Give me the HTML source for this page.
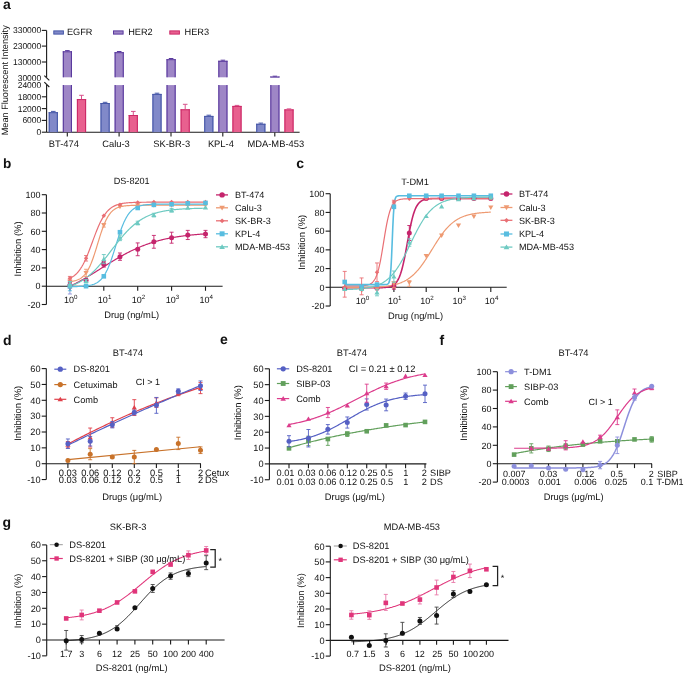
<!DOCTYPE html>
<html><head><meta charset="utf-8"><style>
html,body{margin:0;padding:0;background:#fff;}
svg{display:block;will-change:transform;filter:blur(0.3px);}
text{font-family:"Liberation Sans",sans-serif;fill:#111111;text-rendering:geometricPrecision;}
</style></head><body>
<svg width="685" height="675" viewBox="0 0 685 675">
<rect width="685" height="675" fill="#fff"/>
<text x="3.00" y="9.30" font-size="14" text-anchor="start" font-weight="bold" >a</text>
<line x1="46.60" y1="30.40" x2="46.60" y2="77.20" stroke="#1a1a1a" stroke-width="1.1" />
<line x1="46.60" y1="85.00" x2="46.60" y2="132.20" stroke="#1a1a1a" stroke-width="1.1" />
<path d="M44.3,75.6L49.3,80.4" stroke="#1a1a1a" stroke-width="1.1" fill="none" />
<path d="M44.3,82.2L49.3,87.0" stroke="#1a1a1a" stroke-width="1.1" fill="none" />
<line x1="41.80" y1="30.40" x2="46.60" y2="30.40" stroke="#1a1a1a" stroke-width="1.1" />
<text x="41.30" y="33.40" font-size="8.5" text-anchor="end" >330000</text>
<line x1="41.80" y1="46.10" x2="46.60" y2="46.10" stroke="#1a1a1a" stroke-width="1.1" />
<text x="41.30" y="49.10" font-size="8.5" text-anchor="end" >230000</text>
<line x1="41.80" y1="62.00" x2="46.60" y2="62.00" stroke="#1a1a1a" stroke-width="1.1" />
<text x="41.30" y="65.00" font-size="8.5" text-anchor="end" >130000</text>
<text x="41.30" y="80.60" font-size="8.5" text-anchor="end" >30000</text>
<text x="41.30" y="88.00" font-size="8.5" text-anchor="end" >24000</text>
<line x1="41.80" y1="96.80" x2="46.60" y2="96.80" stroke="#1a1a1a" stroke-width="1.1" />
<text x="41.30" y="99.80" font-size="8.5" text-anchor="end" >18000</text>
<line x1="41.80" y1="108.60" x2="46.60" y2="108.60" stroke="#1a1a1a" stroke-width="1.1" />
<text x="41.30" y="111.60" font-size="8.5" text-anchor="end" >12000</text>
<line x1="41.80" y1="120.40" x2="46.60" y2="120.40" stroke="#1a1a1a" stroke-width="1.1" />
<text x="41.30" y="123.40" font-size="8.5" text-anchor="end" >6000</text>
<line x1="41.80" y1="132.20" x2="46.60" y2="132.20" stroke="#1a1a1a" stroke-width="1.1" />
<text x="41.30" y="135.20" font-size="8.5" text-anchor="end" >0</text>
<text transform="translate(7.60,80.30) rotate(-90)" font-size="9.18" text-anchor="middle">Mean Fluorescent Intensity</text>
<line x1="46.60" y1="132.20" x2="299.60" y2="132.20" stroke="#1a1a1a" stroke-width="1.1" />
<line x1="67.30" y1="132.20" x2="67.30" y2="136.40" stroke="#1a1a1a" stroke-width="1.1" />
<line x1="119.10" y1="132.20" x2="119.10" y2="136.40" stroke="#1a1a1a" stroke-width="1.1" />
<line x1="171.00" y1="132.20" x2="171.00" y2="136.40" stroke="#1a1a1a" stroke-width="1.1" />
<line x1="222.80" y1="132.20" x2="222.80" y2="136.40" stroke="#1a1a1a" stroke-width="1.1" />
<line x1="274.80" y1="132.20" x2="274.80" y2="136.40" stroke="#1a1a1a" stroke-width="1.1" />
<text x="48.80" y="146.80" font-size="9.35" text-anchor="start" >BT-474</text>
<text x="102.20" y="146.80" font-size="9.35" text-anchor="start" >Calu-3</text>
<text x="153.30" y="146.80" font-size="9.35" text-anchor="start" >SK-BR-3</text>
<text x="207.90" y="146.80" font-size="9.35" text-anchor="start" >KPL-4</text>
<text x="247.50" y="146.80" font-size="9.35" text-anchor="start" >MDA-MB-453</text>
<rect x="48.70" y="112.20" width="9.20" height="20.00" fill="#8189c9"/>
<line x1="49.25" y1="112.20" x2="49.25" y2="132.20" stroke="#4658a8" stroke-width="1.1" />
<line x1="57.35" y1="112.20" x2="57.35" y2="132.20" stroke="#4658a8" stroke-width="1.1" />
<line x1="48.70" y1="112.70" x2="57.90" y2="112.70" stroke="#4658a8" stroke-width="1.0" />
<line x1="53.30" y1="111.40" x2="53.30" y2="112.20" stroke="#4658a8" stroke-width="1.0" />
<line x1="51.00" y1="111.40" x2="55.60" y2="111.40" stroke="#4658a8" stroke-width="1.0" />
<rect x="62.80" y="51.30" width="9.20" height="26.00" fill="#9e86c6"/>
<line x1="63.35" y1="51.30" x2="63.35" y2="77.30" stroke="#5a3a9e" stroke-width="1.1" />
<line x1="71.45" y1="51.30" x2="71.45" y2="77.30" stroke="#5a3a9e" stroke-width="1.1" />
<line x1="62.80" y1="51.80" x2="72.00" y2="51.80" stroke="#5a3a9e" stroke-width="1.0" />
<rect x="62.80" y="85.10" width="9.20" height="47.10" fill="#9e86c6"/>
<line x1="63.35" y1="85.10" x2="63.35" y2="132.20" stroke="#5a3a9e" stroke-width="1.1" />
<line x1="71.45" y1="85.10" x2="71.45" y2="132.20" stroke="#5a3a9e" stroke-width="1.1" />
<line x1="67.40" y1="50.60" x2="67.40" y2="51.30" stroke="#5a3a9e" stroke-width="1.0" />
<line x1="65.10" y1="50.60" x2="69.70" y2="50.60" stroke="#5a3a9e" stroke-width="1.0" />
<rect x="76.90" y="99.10" width="9.20" height="33.10" fill="#e8608f"/>
<line x1="77.45" y1="99.10" x2="77.45" y2="132.20" stroke="#cc2a68" stroke-width="1.1" />
<line x1="85.55" y1="99.10" x2="85.55" y2="132.20" stroke="#cc2a68" stroke-width="1.1" />
<line x1="76.90" y1="99.60" x2="86.10" y2="99.60" stroke="#cc2a68" stroke-width="1.0" />
<line x1="81.50" y1="95.30" x2="81.50" y2="99.10" stroke="#d8508a" stroke-width="1.0" />
<line x1="79.20" y1="95.30" x2="83.80" y2="95.30" stroke="#d8508a" stroke-width="1.0" />
<rect x="100.50" y="103.00" width="9.20" height="29.20" fill="#8189c9"/>
<line x1="101.05" y1="103.00" x2="101.05" y2="132.20" stroke="#4658a8" stroke-width="1.1" />
<line x1="109.15" y1="103.00" x2="109.15" y2="132.20" stroke="#4658a8" stroke-width="1.1" />
<line x1="100.50" y1="103.50" x2="109.70" y2="103.50" stroke="#4658a8" stroke-width="1.0" />
<line x1="105.10" y1="102.30" x2="105.10" y2="103.00" stroke="#4658a8" stroke-width="1.0" />
<line x1="102.80" y1="102.30" x2="107.40" y2="102.30" stroke="#4658a8" stroke-width="1.0" />
<rect x="114.60" y="52.20" width="9.20" height="25.10" fill="#9e86c6"/>
<line x1="115.15" y1="52.20" x2="115.15" y2="77.30" stroke="#5a3a9e" stroke-width="1.1" />
<line x1="123.25" y1="52.20" x2="123.25" y2="77.30" stroke="#5a3a9e" stroke-width="1.1" />
<line x1="114.60" y1="52.70" x2="123.80" y2="52.70" stroke="#5a3a9e" stroke-width="1.0" />
<rect x="114.60" y="85.10" width="9.20" height="47.10" fill="#9e86c6"/>
<line x1="115.15" y1="85.10" x2="115.15" y2="132.20" stroke="#5a3a9e" stroke-width="1.1" />
<line x1="123.25" y1="85.10" x2="123.25" y2="132.20" stroke="#5a3a9e" stroke-width="1.1" />
<line x1="119.20" y1="51.50" x2="119.20" y2="52.20" stroke="#5a3a9e" stroke-width="1.0" />
<line x1="116.90" y1="51.50" x2="121.50" y2="51.50" stroke="#5a3a9e" stroke-width="1.0" />
<rect x="128.70" y="115.00" width="9.20" height="17.20" fill="#e8608f"/>
<line x1="129.25" y1="115.00" x2="129.25" y2="132.20" stroke="#cc2a68" stroke-width="1.1" />
<line x1="137.35" y1="115.00" x2="137.35" y2="132.20" stroke="#cc2a68" stroke-width="1.1" />
<line x1="128.70" y1="115.50" x2="137.90" y2="115.50" stroke="#cc2a68" stroke-width="1.0" />
<line x1="133.30" y1="111.40" x2="133.30" y2="115.00" stroke="#d8508a" stroke-width="1.0" />
<line x1="131.00" y1="111.40" x2="135.60" y2="111.40" stroke="#d8508a" stroke-width="1.0" />
<rect x="152.40" y="93.90" width="9.20" height="38.30" fill="#8189c9"/>
<line x1="152.95" y1="93.90" x2="152.95" y2="132.20" stroke="#4658a8" stroke-width="1.1" />
<line x1="161.05" y1="93.90" x2="161.05" y2="132.20" stroke="#4658a8" stroke-width="1.1" />
<line x1="152.40" y1="94.40" x2="161.60" y2="94.40" stroke="#4658a8" stroke-width="1.0" />
<line x1="157.00" y1="93.20" x2="157.00" y2="93.90" stroke="#4658a8" stroke-width="1.0" />
<line x1="154.70" y1="93.20" x2="159.30" y2="93.20" stroke="#4658a8" stroke-width="1.0" />
<rect x="166.50" y="59.20" width="9.20" height="18.10" fill="#9e86c6"/>
<line x1="167.05" y1="59.20" x2="167.05" y2="77.30" stroke="#5a3a9e" stroke-width="1.1" />
<line x1="175.15" y1="59.20" x2="175.15" y2="77.30" stroke="#5a3a9e" stroke-width="1.1" />
<line x1="166.50" y1="59.70" x2="175.70" y2="59.70" stroke="#5a3a9e" stroke-width="1.0" />
<rect x="166.50" y="85.10" width="9.20" height="47.10" fill="#9e86c6"/>
<line x1="167.05" y1="85.10" x2="167.05" y2="132.20" stroke="#5a3a9e" stroke-width="1.1" />
<line x1="175.15" y1="85.10" x2="175.15" y2="132.20" stroke="#5a3a9e" stroke-width="1.1" />
<line x1="171.10" y1="58.50" x2="171.10" y2="59.20" stroke="#5a3a9e" stroke-width="1.0" />
<line x1="168.80" y1="58.50" x2="173.40" y2="58.50" stroke="#5a3a9e" stroke-width="1.0" />
<rect x="180.60" y="109.30" width="9.20" height="22.90" fill="#e8608f"/>
<line x1="181.15" y1="109.30" x2="181.15" y2="132.20" stroke="#cc2a68" stroke-width="1.1" />
<line x1="189.25" y1="109.30" x2="189.25" y2="132.20" stroke="#cc2a68" stroke-width="1.1" />
<line x1="180.60" y1="109.80" x2="189.80" y2="109.80" stroke="#cc2a68" stroke-width="1.0" />
<line x1="185.20" y1="104.30" x2="185.20" y2="109.30" stroke="#d8508a" stroke-width="1.0" />
<line x1="182.90" y1="104.30" x2="187.50" y2="104.30" stroke="#d8508a" stroke-width="1.0" />
<rect x="204.20" y="115.90" width="9.20" height="16.30" fill="#8189c9"/>
<line x1="204.75" y1="115.90" x2="204.75" y2="132.20" stroke="#4658a8" stroke-width="1.1" />
<line x1="212.85" y1="115.90" x2="212.85" y2="132.20" stroke="#4658a8" stroke-width="1.1" />
<line x1="204.20" y1="116.40" x2="213.40" y2="116.40" stroke="#4658a8" stroke-width="1.0" />
<line x1="208.80" y1="115.20" x2="208.80" y2="115.90" stroke="#4658a8" stroke-width="1.0" />
<line x1="206.50" y1="115.20" x2="211.10" y2="115.20" stroke="#4658a8" stroke-width="1.0" />
<rect x="218.30" y="60.80" width="9.20" height="16.50" fill="#9e86c6"/>
<line x1="218.85" y1="60.80" x2="218.85" y2="77.30" stroke="#5a3a9e" stroke-width="1.1" />
<line x1="226.95" y1="60.80" x2="226.95" y2="77.30" stroke="#5a3a9e" stroke-width="1.1" />
<line x1="218.30" y1="61.30" x2="227.50" y2="61.30" stroke="#5a3a9e" stroke-width="1.0" />
<rect x="218.30" y="85.10" width="9.20" height="47.10" fill="#9e86c6"/>
<line x1="218.85" y1="85.10" x2="218.85" y2="132.20" stroke="#5a3a9e" stroke-width="1.1" />
<line x1="226.95" y1="85.10" x2="226.95" y2="132.20" stroke="#5a3a9e" stroke-width="1.1" />
<line x1="222.90" y1="60.20" x2="222.90" y2="60.80" stroke="#5a3a9e" stroke-width="1.0" />
<line x1="220.60" y1="60.20" x2="225.20" y2="60.20" stroke="#5a3a9e" stroke-width="1.0" />
<rect x="232.40" y="105.90" width="9.20" height="26.30" fill="#e8608f"/>
<line x1="232.95" y1="105.90" x2="232.95" y2="132.20" stroke="#cc2a68" stroke-width="1.1" />
<line x1="241.05" y1="105.90" x2="241.05" y2="132.20" stroke="#cc2a68" stroke-width="1.1" />
<line x1="232.40" y1="106.40" x2="241.60" y2="106.40" stroke="#cc2a68" stroke-width="1.0" />
<line x1="237.00" y1="105.40" x2="237.00" y2="105.90" stroke="#d8508a" stroke-width="1.0" />
<line x1="234.70" y1="105.40" x2="239.30" y2="105.40" stroke="#d8508a" stroke-width="1.0" />
<rect x="256.20" y="123.80" width="9.20" height="8.40" fill="#8189c9"/>
<line x1="256.75" y1="123.80" x2="256.75" y2="132.20" stroke="#4658a8" stroke-width="1.1" />
<line x1="264.85" y1="123.80" x2="264.85" y2="132.20" stroke="#4658a8" stroke-width="1.1" />
<line x1="256.20" y1="124.30" x2="265.40" y2="124.30" stroke="#4658a8" stroke-width="1.0" />
<line x1="260.80" y1="123.10" x2="260.80" y2="123.80" stroke="#4658a8" stroke-width="1.0" />
<line x1="258.50" y1="123.10" x2="263.10" y2="123.10" stroke="#4658a8" stroke-width="1.0" />
<rect x="270.30" y="76.60" width="9.20" height="0.70" fill="#9e86c6"/>
<line x1="270.85" y1="76.60" x2="270.85" y2="77.30" stroke="#5a3a9e" stroke-width="1.1" />
<line x1="278.95" y1="76.60" x2="278.95" y2="77.30" stroke="#5a3a9e" stroke-width="1.1" />
<line x1="270.30" y1="77.10" x2="279.50" y2="77.10" stroke="#5a3a9e" stroke-width="1.0" />
<rect x="270.30" y="85.10" width="9.20" height="47.10" fill="#9e86c6"/>
<line x1="270.85" y1="85.10" x2="270.85" y2="132.20" stroke="#5a3a9e" stroke-width="1.1" />
<line x1="278.95" y1="85.10" x2="278.95" y2="132.20" stroke="#5a3a9e" stroke-width="1.1" />
<line x1="274.90" y1="76.20" x2="274.90" y2="76.60" stroke="#5a3a9e" stroke-width="1.0" />
<line x1="272.60" y1="76.20" x2="277.20" y2="76.20" stroke="#5a3a9e" stroke-width="1.0" />
<rect x="284.40" y="109.40" width="9.20" height="22.80" fill="#e8608f"/>
<line x1="284.95" y1="109.40" x2="284.95" y2="132.20" stroke="#cc2a68" stroke-width="1.1" />
<line x1="293.05" y1="109.40" x2="293.05" y2="132.20" stroke="#cc2a68" stroke-width="1.1" />
<line x1="284.40" y1="109.90" x2="293.60" y2="109.90" stroke="#cc2a68" stroke-width="1.0" />
<line x1="289.00" y1="108.90" x2="289.00" y2="109.40" stroke="#d8508a" stroke-width="1.0" />
<line x1="286.70" y1="108.90" x2="291.30" y2="108.90" stroke="#d8508a" stroke-width="1.0" />
<rect x="53.80" y="30.90" width="9.60" height="3.20" fill="#8189c9" stroke="#4658a8" stroke-width="1.0"/>
<text x="66.90" y="35.10" font-size="9.2" text-anchor="start" >EGFR</text>
<rect x="113.50" y="30.90" width="9.60" height="3.20" fill="#9e86c6" stroke="#5a3a9e" stroke-width="1.0"/>
<text x="128.20" y="35.10" font-size="9.2" text-anchor="start" >HER2</text>
<rect x="169.80" y="30.90" width="9.60" height="3.20" fill="#e8608f" stroke="#cc2a68" stroke-width="1.0"/>
<text x="184.60" y="35.10" font-size="9.2" text-anchor="start" >HER3</text>
<text x="3.00" y="167.80" font-size="13.6" text-anchor="start" font-weight="bold" >b</text>
<line x1="46.40" y1="194.70" x2="46.40" y2="304.50" stroke="#1a1a1a" stroke-width="1.1" />
<line x1="41.80" y1="194.70" x2="46.40" y2="194.70" stroke="#1a1a1a" stroke-width="1.1" />
<text x="40.60" y="197.94" font-size="9.0" text-anchor="end" >100</text>
<line x1="41.80" y1="213.00" x2="46.40" y2="213.00" stroke="#1a1a1a" stroke-width="1.1" />
<text x="40.60" y="216.24" font-size="9.0" text-anchor="end" >80</text>
<line x1="41.80" y1="231.30" x2="46.40" y2="231.30" stroke="#1a1a1a" stroke-width="1.1" />
<text x="40.60" y="234.54" font-size="9.0" text-anchor="end" >60</text>
<line x1="41.80" y1="249.60" x2="46.40" y2="249.60" stroke="#1a1a1a" stroke-width="1.1" />
<text x="40.60" y="252.84" font-size="9.0" text-anchor="end" >40</text>
<line x1="41.80" y1="267.90" x2="46.40" y2="267.90" stroke="#1a1a1a" stroke-width="1.1" />
<text x="40.60" y="271.14" font-size="9.0" text-anchor="end" >20</text>
<line x1="41.80" y1="286.20" x2="46.40" y2="286.20" stroke="#1a1a1a" stroke-width="1.1" />
<text x="40.60" y="289.44" font-size="9.0" text-anchor="end" >0</text>
<line x1="41.80" y1="304.50" x2="46.40" y2="304.50" stroke="#1a1a1a" stroke-width="1.1" />
<text x="40.60" y="307.74" font-size="9.0" text-anchor="end" >-20</text>
<line x1="46.40" y1="286.20" x2="222.60" y2="286.20" stroke="#1a1a1a" stroke-width="1.1" />
<line x1="69.90" y1="286.20" x2="69.90" y2="290.80" stroke="#1a1a1a" stroke-width="1.1" />
<text x="70.70" y="302.7" font-size="9.0" text-anchor="middle">10<tspan font-size="6.2" dy="-3.6">0</tspan></text>
<line x1="103.80" y1="286.20" x2="103.80" y2="290.80" stroke="#1a1a1a" stroke-width="1.1" />
<text x="104.60" y="302.7" font-size="9.0" text-anchor="middle">10<tspan font-size="6.2" dy="-3.6">1</tspan></text>
<line x1="137.70" y1="286.20" x2="137.70" y2="290.80" stroke="#1a1a1a" stroke-width="1.1" />
<text x="138.50" y="302.7" font-size="9.0" text-anchor="middle">10<tspan font-size="6.2" dy="-3.6">2</tspan></text>
<line x1="171.60" y1="286.20" x2="171.60" y2="290.80" stroke="#1a1a1a" stroke-width="1.1" />
<text x="172.40" y="302.7" font-size="9.0" text-anchor="middle">10<tspan font-size="6.2" dy="-3.6">3</tspan></text>
<line x1="205.50" y1="286.20" x2="205.50" y2="290.80" stroke="#1a1a1a" stroke-width="1.1" />
<text x="206.30" y="302.7" font-size="9.0" text-anchor="middle">10<tspan font-size="6.2" dy="-3.6">4</tspan></text>
<text x="131.70" y="184.40" font-size="9.1" text-anchor="middle" >DS-8201</text>
<text x="131.70" y="318.00" font-size="9.35" text-anchor="middle" >Drug (ng/mL)</text>
<text transform="translate(21.30,248.90) rotate(-90)" font-size="9.45" text-anchor="middle">Inhibition (%)</text>
<line x1="69.90" y1="286.20" x2="69.90" y2="293.98" stroke="#8a90d8" stroke-width="0.9" />
<line x1="67.90" y1="286.20" x2="71.90" y2="286.20" stroke="#8a90d8" stroke-width="0.9" />
<line x1="67.90" y1="293.98" x2="71.90" y2="293.98" stroke="#8a90d8" stroke-width="0.9" />
<path d="M69.90,286.30L70.47,286.03L71.03,285.76L71.59,285.48L72.16,285.21L72.73,284.93L73.29,284.65L73.86,284.36L74.42,284.07L74.98,283.78L75.55,283.49L76.12,283.20L76.68,282.90L77.25,282.60L77.81,282.30L78.38,282.00L78.94,281.69L79.51,281.38L80.07,281.07L80.64,280.76L81.20,280.44L81.77,280.13L82.33,279.81L82.90,279.49L83.46,279.16L84.03,278.84L84.59,278.51L85.16,278.18L85.72,277.85L86.28,277.52L86.85,277.19L87.42,276.85L87.98,276.51L88.55,276.18L89.11,275.84L89.68,275.49L90.24,275.15L90.81,274.81L91.37,274.46L91.94,274.12L92.50,273.77L93.06,273.42L93.63,273.07L94.20,272.72L94.76,272.37L95.33,272.01L95.89,271.66L96.46,271.31L97.02,270.95L97.59,270.60L98.15,270.24L98.72,269.89L99.28,269.53L99.84,269.18L100.41,268.82L100.97,268.46L101.54,268.11L102.11,267.75L102.67,267.39L103.23,267.04L103.80,266.68L104.37,266.33L104.93,265.97L105.50,265.62L106.06,265.26L106.62,264.91L107.19,264.55L107.75,264.20L108.32,263.85L108.88,263.50L109.45,263.15L110.02,262.80L110.58,262.45L111.15,262.10L111.71,261.76L112.28,261.41L112.84,261.07L113.41,260.73L113.97,260.39L114.53,260.05L115.10,259.71L115.67,259.37L116.23,259.04L116.80,258.71L117.36,258.38L117.93,258.05L118.49,257.72L119.06,257.39L119.62,257.07L120.19,256.75L120.75,256.43L121.31,256.11L121.88,255.79L122.45,255.48L123.01,255.17L123.58,254.86L124.14,254.55L124.71,254.25L125.27,253.95L125.84,253.65L126.40,253.35L126.97,253.05L127.53,252.76L128.09,252.47L128.66,252.18L129.22,251.90L129.79,251.61L130.36,251.33L130.92,251.06L131.49,250.78L132.05,250.51L132.62,250.24L133.18,249.97L133.75,249.71L134.31,249.44L134.88,249.18L135.44,248.93L136.00,248.67L136.57,248.42L137.13,248.17L137.70,247.93L138.26,247.68L138.83,247.44L139.39,247.21L139.96,246.97L140.53,246.74L141.09,246.51L141.66,246.28L142.22,246.06L142.78,245.83L143.35,245.62L143.91,245.40L144.48,245.19L145.05,244.97L145.61,244.77L146.18,244.56L146.74,244.36L147.31,244.16L147.87,243.96L148.44,243.76L149.00,243.57L149.56,243.38L150.13,243.19L150.69,243.01L151.26,242.82L151.82,242.64L152.39,242.47L152.96,242.29L153.52,242.12L154.09,241.95L154.65,241.78L155.22,241.62L155.78,241.45L156.34,241.29L156.91,241.13L157.48,240.98L158.04,240.82L158.61,240.67L159.17,240.52L159.74,240.38L160.30,240.23L160.87,240.09L161.43,239.95L162.00,239.81L162.56,239.67L163.12,239.54L163.69,239.41L164.25,239.28L164.82,239.15L165.38,239.02L165.95,238.90L166.51,238.78L167.08,238.66L167.64,238.54L168.21,238.42L168.77,238.31L169.34,238.20L169.91,238.09L170.47,237.98L171.03,237.87L171.60,237.76L172.17,237.66L172.73,237.56L173.30,237.46L173.86,237.36L174.43,237.26L174.99,237.17L175.56,237.07L176.12,236.98L176.69,236.89L177.25,236.80L177.81,236.71L178.38,236.63L178.94,236.54L179.51,236.46L180.07,236.38L180.64,236.30L181.20,236.22L181.77,236.14L182.34,236.07L182.90,235.99L183.47,235.92L184.03,235.84L184.59,235.77L185.16,235.70L185.72,235.64L186.29,235.57L186.86,235.50L187.42,235.44L187.99,235.37L188.55,235.31L189.12,235.25L189.68,235.19L190.25,235.13L190.81,235.07L191.38,235.01L191.94,234.96L192.50,234.90L193.07,234.85L193.63,234.79L194.20,234.74L194.76,234.69L195.33,234.64L195.90,234.59L196.46,234.54L197.03,234.49L197.59,234.44L198.16,234.40L198.72,234.35L199.28,234.31L199.85,234.27L200.41,234.22L200.98,234.18L201.54,234.14L202.11,234.10L202.67,234.06L203.24,234.02L203.81,233.98L204.37,233.94L204.94,233.91L205.50,233.87" stroke="#c5246c" stroke-width="1.2" fill="none" />
<path d="M69.90,281.61L70.47,281.55L71.03,281.47L71.59,281.39L72.16,281.30L72.73,281.21L73.29,281.10L73.86,280.98L74.42,280.85L74.98,280.71L75.55,280.56L76.12,280.39L76.68,280.20L77.25,280.00L77.81,279.77L78.38,279.53L78.94,279.26L79.51,278.97L80.07,278.65L80.64,278.30L81.20,277.92L81.77,277.51L82.33,277.06L82.90,276.57L83.46,276.04L84.03,275.46L84.59,274.84L85.16,274.16L85.72,273.44L86.28,272.65L86.85,271.81L87.42,270.90L87.98,269.94L88.55,268.90L89.11,267.80L89.68,266.63L90.24,265.39L90.81,264.09L91.37,262.71L91.94,261.27L92.50,259.76L93.06,258.19L93.63,256.57L94.20,254.89L94.76,253.16L95.33,251.39L95.89,249.59L96.46,247.76L97.02,245.91L97.59,244.05L98.15,242.19L98.72,240.34L99.28,238.50L99.84,236.69L100.41,234.91L100.97,233.17L101.54,231.47L102.11,229.82L102.67,228.24L103.23,226.71L103.80,225.24L104.37,223.84L104.93,222.51L105.50,221.25L106.06,220.06L106.62,218.93L107.19,217.88L107.75,216.89L108.32,215.96L108.88,215.10L109.45,214.29L110.02,213.55L110.58,212.85L111.15,212.21L111.71,211.62L112.28,211.07L112.84,210.57L113.41,210.11L113.97,209.68L114.53,209.29L115.10,208.93L115.67,208.60L116.23,208.30L116.80,208.02L117.36,207.77L117.93,207.54L118.49,207.33L119.06,207.14L119.62,206.96L120.19,206.80L120.75,206.66L121.31,206.53L121.88,206.41L122.45,206.30L123.01,206.19L123.58,206.10L124.14,206.02L124.71,205.94L125.27,205.88L125.84,205.81L126.40,205.76L126.97,205.70L127.53,205.66L128.09,205.62L128.66,205.58L129.22,205.54L129.79,205.51L130.36,205.48L130.92,205.45L131.49,205.43L132.05,205.41L132.62,205.39L133.18,205.37L133.75,205.35L134.31,205.34L134.88,205.32L135.44,205.31L136.00,205.30L136.57,205.29L137.13,205.28L137.70,205.27L138.26,205.27L138.83,205.26L139.39,205.25L139.96,205.25L140.53,205.24L141.09,205.24L141.66,205.23L142.22,205.23L142.78,205.23L143.35,205.22L143.91,205.22L144.48,205.22L145.05,205.21L145.61,205.21L146.18,205.21L146.74,205.21L147.31,205.21L147.87,205.21L148.44,205.20L149.00,205.20L149.56,205.20L150.13,205.20L150.69,205.20L151.26,205.20L151.82,205.20L152.39,205.20L152.96,205.20L153.52,205.20L154.09,205.20L154.65,205.20L155.22,205.19L155.78,205.19L156.34,205.19L156.91,205.19L157.48,205.19L158.04,205.19L158.61,205.19L159.17,205.19L159.74,205.19L160.30,205.19L160.87,205.19L161.43,205.19L162.00,205.19L162.56,205.19L163.12,205.19L163.69,205.19L164.25,205.19L164.82,205.19L165.38,205.19L165.95,205.19L166.51,205.19L167.08,205.19L167.64,205.19L168.21,205.19L168.77,205.19L169.34,205.19L169.91,205.19L170.47,205.19L171.03,205.19L171.60,205.19L172.17,205.19L172.73,205.19L173.30,205.19L173.86,205.19L174.43,205.19L174.99,205.19L175.56,205.19L176.12,205.19L176.69,205.19L177.25,205.19L177.81,205.19L178.38,205.19L178.94,205.19L179.51,205.19L180.07,205.19L180.64,205.19L181.20,205.19L181.77,205.19L182.34,205.19L182.90,205.19L183.47,205.19L184.03,205.19L184.59,205.19L185.16,205.19L185.72,205.19L186.29,205.19L186.86,205.19L187.42,205.19L187.99,205.19L188.55,205.19L189.12,205.19L189.68,205.19L190.25,205.19L190.81,205.19L191.38,205.19L191.94,205.19L192.50,205.19L193.07,205.19L193.63,205.19L194.20,205.19L194.76,205.19L195.33,205.19L195.90,205.19L196.46,205.19L197.03,205.19L197.59,205.19L198.16,205.19L198.72,205.19L199.28,205.19L199.85,205.19L200.41,205.19L200.98,205.19L201.54,205.19L202.11,205.19L202.67,205.19L203.24,205.19L203.81,205.19L204.37,205.19L204.94,205.19L205.50,205.19" stroke="#ee9a72" stroke-width="1.2" fill="none" />
<path d="M69.90,278.28L70.47,278.01L71.03,277.73L71.59,277.42L72.16,277.09L72.73,276.73L73.29,276.36L73.86,275.95L74.42,275.52L74.98,275.06L75.55,274.57L76.12,274.04L76.68,273.49L77.25,272.89L77.81,272.26L78.38,271.60L78.94,270.89L79.51,270.14L80.07,269.35L80.64,268.52L81.20,267.64L81.77,266.72L82.33,265.75L82.90,264.74L83.46,263.68L84.03,262.58L84.59,261.43L85.16,260.23L85.72,259.00L86.28,257.72L86.85,256.40L87.42,255.04L87.98,253.65L88.55,252.23L89.11,250.78L89.68,249.31L90.24,247.81L90.81,246.30L91.37,244.77L91.94,243.23L92.50,241.70L93.06,240.16L93.63,238.63L94.20,237.10L94.76,235.60L95.33,234.11L95.89,232.64L96.46,231.20L97.02,229.79L97.59,228.41L98.15,227.07L98.72,225.77L99.28,224.50L99.84,223.28L100.41,222.11L100.97,220.97L101.54,219.88L102.11,218.84L102.67,217.85L103.23,216.90L103.80,215.99L104.37,215.13L104.93,214.31L105.50,213.54L106.06,212.81L106.62,212.12L107.19,211.46L107.75,210.85L108.32,210.27L108.88,209.72L109.45,209.21L110.02,208.73L110.58,208.28L111.15,207.86L111.71,207.46L112.28,207.09L112.84,206.75L113.41,206.43L113.97,206.13L114.53,205.85L115.10,205.59L115.67,205.34L116.23,205.12L116.80,204.90L117.36,204.71L117.93,204.53L118.49,204.36L119.06,204.20L119.62,204.05L120.19,203.91L120.75,203.79L121.31,203.67L121.88,203.56L122.45,203.46L123.01,203.37L123.58,203.28L124.14,203.20L124.71,203.12L125.27,203.05L125.84,202.99L126.40,202.93L126.97,202.87L127.53,202.82L128.09,202.77L128.66,202.73L129.22,202.69L129.79,202.65L130.36,202.62L130.92,202.58L131.49,202.55L132.05,202.53L132.62,202.50L133.18,202.48L133.75,202.45L134.31,202.43L134.88,202.42L135.44,202.40L136.00,202.38L136.57,202.37L137.13,202.35L137.70,202.34L138.26,202.33L138.83,202.32L139.39,202.31L139.96,202.30L140.53,202.29L141.09,202.28L141.66,202.27L142.22,202.27L142.78,202.26L143.35,202.25L143.91,202.25L144.48,202.24L145.05,202.24L145.61,202.23L146.18,202.23L146.74,202.22L147.31,202.22L147.87,202.22L148.44,202.22L149.00,202.21L149.56,202.21L150.13,202.21L150.69,202.21L151.26,202.20L151.82,202.20L152.39,202.20L152.96,202.20L153.52,202.20L154.09,202.20L154.65,202.19L155.22,202.19L155.78,202.19L156.34,202.19L156.91,202.19L157.48,202.19L158.04,202.19L158.61,202.19L159.17,202.19L159.74,202.19L160.30,202.19L160.87,202.18L161.43,202.18L162.00,202.18L162.56,202.18L163.12,202.18L163.69,202.18L164.25,202.18L164.82,202.18L165.38,202.18L165.95,202.18L166.51,202.18L167.08,202.18L167.64,202.18L168.21,202.18L168.77,202.18L169.34,202.18L169.91,202.18L170.47,202.18L171.03,202.18L171.60,202.18L172.17,202.18L172.73,202.18L173.30,202.18L173.86,202.18L174.43,202.18L174.99,202.18L175.56,202.18L176.12,202.18L176.69,202.18L177.25,202.18L177.81,202.18L178.38,202.18L178.94,202.18L179.51,202.18L180.07,202.18L180.64,202.18L181.20,202.18L181.77,202.18L182.34,202.18L182.90,202.18L183.47,202.18L184.03,202.18L184.59,202.18L185.16,202.18L185.72,202.18L186.29,202.18L186.86,202.18L187.42,202.18L187.99,202.18L188.55,202.18L189.12,202.18L189.68,202.18L190.25,202.18L190.81,202.18L191.38,202.18L191.94,202.18L192.50,202.18L193.07,202.18L193.63,202.18L194.20,202.18L194.76,202.18L195.33,202.18L195.90,202.18L196.46,202.18L197.03,202.18L197.59,202.18L198.16,202.18L198.72,202.18L199.28,202.18L199.85,202.18L200.41,202.18L200.98,202.18L201.54,202.18L202.11,202.18L202.67,202.18L203.24,202.18L203.81,202.18L204.37,202.18L204.94,202.18L205.50,202.18" stroke="#e96f74" stroke-width="1.2" fill="none" />
<path d="M69.90,286.67L70.47,286.66L71.03,286.66L71.59,286.65L72.16,286.64L72.73,286.64L73.29,286.63L73.86,286.62L74.42,286.61L74.98,286.60L75.55,286.58L76.12,286.57L76.68,286.55L77.25,286.54L77.81,286.52L78.38,286.50L78.94,286.48L79.51,286.46L80.07,286.43L80.64,286.40L81.20,286.37L81.77,286.34L82.33,286.30L82.90,286.27L83.46,286.22L84.03,286.18L84.59,286.13L85.16,286.07L85.72,286.01L86.28,285.94L86.85,285.87L87.42,285.79L87.98,285.71L88.55,285.61L89.11,285.51L89.68,285.40L90.24,285.28L90.81,285.15L91.37,285.00L91.94,284.85L92.50,284.67L93.06,284.49L93.63,284.29L94.20,284.07L94.76,283.83L95.33,283.57L95.89,283.29L96.46,282.99L97.02,282.66L97.59,282.30L98.15,281.91L98.72,281.50L99.28,281.04L99.84,280.56L100.41,280.03L100.97,279.47L101.54,278.86L102.11,278.20L102.67,277.50L103.23,276.75L103.80,275.94L104.37,275.08L104.93,274.17L105.50,273.19L106.06,272.16L106.62,271.07L107.19,269.91L107.75,268.69L108.32,267.41L108.88,266.07L109.45,264.66L110.02,263.20L110.58,261.68L111.15,260.11L111.71,258.48L112.28,256.81L112.84,255.10L113.41,253.35L113.97,251.57L114.53,249.77L115.10,247.95L115.67,246.13L116.23,244.29L116.80,242.47L117.36,240.65L117.93,238.85L118.49,237.08L119.06,235.34L119.62,233.64L120.19,231.98L120.75,230.36L121.31,228.80L121.88,227.29L122.45,225.84L123.01,224.45L123.58,223.12L124.14,221.85L124.71,220.65L125.27,219.50L125.84,218.42L126.40,217.40L126.97,216.44L127.53,215.54L128.09,214.69L128.66,213.90L129.22,213.15L129.79,212.46L130.36,211.82L130.92,211.22L131.49,210.66L132.05,210.14L132.62,209.66L133.18,209.22L133.75,208.81L134.31,208.43L134.88,208.08L135.44,207.75L136.00,207.45L136.57,207.18L137.13,206.92L137.70,206.69L138.26,206.47L138.83,206.28L139.39,206.09L139.96,205.93L140.53,205.77L141.09,205.63L141.66,205.50L142.22,205.38L142.78,205.27L143.35,205.17L143.91,205.08L144.48,205.00L145.05,204.92L145.61,204.85L146.18,204.78L146.74,204.72L147.31,204.67L147.87,204.62L148.44,204.57L149.00,204.53L149.56,204.49L150.13,204.46L150.69,204.43L151.26,204.40L151.82,204.37L152.39,204.34L152.96,204.32L153.52,204.30L154.09,204.28L154.65,204.26L155.22,204.25L155.78,204.23L156.34,204.22L156.91,204.21L157.48,204.20L158.04,204.19L158.61,204.18L159.17,204.17L159.74,204.16L160.30,204.15L160.87,204.15L161.43,204.14L162.00,204.14L162.56,204.13L163.12,204.13L163.69,204.12L164.25,204.12L164.82,204.11L165.38,204.11L165.95,204.11L166.51,204.11L167.08,204.10L167.64,204.10L168.21,204.10L168.77,204.10L169.34,204.10L169.91,204.09L170.47,204.09L171.03,204.09L171.60,204.09L172.17,204.09L172.73,204.09L173.30,204.09L173.86,204.09L174.43,204.08L174.99,204.08L175.56,204.08L176.12,204.08L176.69,204.08L177.25,204.08L177.81,204.08L178.38,204.08L178.94,204.08L179.51,204.08L180.07,204.08L180.64,204.08L181.20,204.08L181.77,204.08L182.34,204.08L182.90,204.08L183.47,204.08L184.03,204.08L184.59,204.08L185.16,204.08L185.72,204.08L186.29,204.08L186.86,204.08L187.42,204.08L187.99,204.08L188.55,204.08L189.12,204.08L189.68,204.08L190.25,204.08L190.81,204.08L191.38,204.08L191.94,204.08L192.50,204.08L193.07,204.08L193.63,204.08L194.20,204.08L194.76,204.08L195.33,204.08L195.90,204.08L196.46,204.08L197.03,204.08L197.59,204.08L198.16,204.08L198.72,204.08L199.28,204.08L199.85,204.08L200.41,204.08L200.98,204.08L201.54,204.08L202.11,204.08L202.67,204.08L203.24,204.08L203.81,204.08L204.37,204.08L204.94,204.08L205.50,204.08" stroke="#58bde0" stroke-width="1.2" fill="none" />
<path d="M69.90,286.35L70.47,286.15L71.03,285.95L71.59,285.74L72.16,285.53L72.73,285.31L73.29,285.08L73.86,284.85L74.42,284.61L74.98,284.36L75.55,284.11L76.12,283.85L76.68,283.58L77.25,283.30L77.81,283.02L78.38,282.73L78.94,282.43L79.51,282.12L80.07,281.80L80.64,281.48L81.20,281.14L81.77,280.80L82.33,280.45L82.90,280.09L83.46,279.72L84.03,279.34L84.59,278.95L85.16,278.56L85.72,278.15L86.28,277.73L86.85,277.31L87.42,276.87L87.98,276.43L88.55,275.97L89.11,275.51L89.68,275.03L90.24,274.54L90.81,274.05L91.37,273.54L91.94,273.03L92.50,272.50L93.06,271.97L93.63,271.42L94.20,270.87L94.76,270.31L95.33,269.73L95.89,269.15L96.46,268.56L97.02,267.96L97.59,267.34L98.15,266.73L98.72,266.10L99.28,265.46L99.84,264.82L100.41,264.16L100.97,263.50L101.54,262.84L102.11,262.16L102.67,261.48L103.23,260.79L103.80,260.10L104.37,259.40L104.93,258.69L105.50,257.98L106.06,257.27L106.62,256.55L107.19,255.82L107.75,255.10L108.32,254.37L108.88,253.64L109.45,252.90L110.02,252.17L110.58,251.43L111.15,250.69L111.71,249.95L112.28,249.21L112.84,248.48L113.41,247.74L113.97,247.00L114.53,246.27L115.10,245.54L115.67,244.81L116.23,244.08L116.80,243.36L117.36,242.65L117.93,241.93L118.49,241.22L119.06,240.52L119.62,239.82L120.19,239.13L120.75,238.45L121.31,237.77L121.88,237.10L122.45,236.43L123.01,235.77L123.58,235.13L124.14,234.48L124.71,233.85L125.27,233.23L125.84,232.61L126.40,232.00L126.97,231.41L127.53,230.82L128.09,230.24L128.66,229.67L129.22,229.11L129.79,228.56L130.36,228.02L130.92,227.49L131.49,226.97L132.05,226.46L132.62,225.96L133.18,225.46L133.75,224.98L134.31,224.51L134.88,224.05L135.44,223.60L136.00,223.16L136.57,222.73L137.13,222.31L137.70,221.89L138.26,221.49L138.83,221.10L139.39,220.71L139.96,220.34L140.53,219.97L141.09,219.62L141.66,219.27L142.22,218.93L142.78,218.60L143.35,218.28L143.91,217.97L144.48,217.66L145.05,217.37L145.61,217.08L146.18,216.80L146.74,216.52L147.31,216.26L147.87,216.00L148.44,215.75L149.00,215.50L149.56,215.27L150.13,215.04L150.69,214.81L151.26,214.60L151.82,214.38L152.39,214.18L152.96,213.98L153.52,213.79L154.09,213.60L154.65,213.42L155.22,213.24L155.78,213.07L156.34,212.91L156.91,212.75L157.48,212.59L158.04,212.44L158.61,212.29L159.17,212.15L159.74,212.02L160.30,211.88L160.87,211.75L161.43,211.63L162.00,211.51L162.56,211.39L163.12,211.28L163.69,211.17L164.25,211.06L164.82,210.96L165.38,210.86L165.95,210.76L166.51,210.67L167.08,210.58L167.64,210.49L168.21,210.41L168.77,210.33L169.34,210.25L169.91,210.17L170.47,210.10L171.03,210.03L171.60,209.96L172.17,209.89L172.73,209.83L173.30,209.76L173.86,209.70L174.43,209.64L174.99,209.59L175.56,209.53L176.12,209.48L176.69,209.43L177.25,209.38L177.81,209.33L178.38,209.28L178.94,209.24L179.51,209.20L180.07,209.16L180.64,209.11L181.20,209.08L181.77,209.04L182.34,209.00L182.90,208.97L183.47,208.93L184.03,208.90L184.59,208.87L185.16,208.84L185.72,208.81L186.29,208.78L186.86,208.75L187.42,208.72L187.99,208.70L188.55,208.67L189.12,208.65L189.68,208.63L190.25,208.60L190.81,208.58L191.38,208.56L191.94,208.54L192.50,208.52L193.07,208.50L193.63,208.48L194.20,208.47L194.76,208.45L195.33,208.43L195.90,208.42L196.46,208.40L197.03,208.39L197.59,208.37L198.16,208.36L198.72,208.35L199.28,208.33L199.85,208.32L200.41,208.31L200.98,208.30L201.54,208.29L202.11,208.27L202.67,208.26L203.24,208.25L203.81,208.24L204.37,208.23L204.94,208.23L205.50,208.22" stroke="#6ecac2" stroke-width="1.2" fill="none" />
<line x1="69.90" y1="282.54" x2="69.90" y2="288.03" stroke="#c5246c" stroke-width="0.9" />
<line x1="67.90" y1="282.54" x2="71.90" y2="282.54" stroke="#c5246c" stroke-width="0.9" />
<line x1="67.90" y1="288.03" x2="71.90" y2="288.03" stroke="#c5246c" stroke-width="0.9" />
<circle cx="69.90" cy="285.28" r="2.50" fill="#c5246c"/>
<line x1="86.07" y1="278.51" x2="86.07" y2="282.17" stroke="#c5246c" stroke-width="0.9" />
<line x1="84.07" y1="278.51" x2="88.07" y2="278.51" stroke="#c5246c" stroke-width="0.9" />
<line x1="84.07" y1="282.17" x2="88.07" y2="282.17" stroke="#c5246c" stroke-width="0.9" />
<circle cx="86.07" cy="280.34" r="2.50" fill="#c5246c"/>
<line x1="103.80" y1="261.59" x2="103.80" y2="267.08" stroke="#c5246c" stroke-width="0.9" />
<line x1="101.80" y1="261.59" x2="105.80" y2="261.59" stroke="#c5246c" stroke-width="0.9" />
<line x1="101.80" y1="267.08" x2="105.80" y2="267.08" stroke="#c5246c" stroke-width="0.9" />
<circle cx="103.80" cy="264.33" r="2.50" fill="#c5246c"/>
<line x1="119.97" y1="252.99" x2="119.97" y2="260.31" stroke="#c5246c" stroke-width="0.9" />
<line x1="117.97" y1="252.99" x2="121.97" y2="252.99" stroke="#c5246c" stroke-width="0.9" />
<line x1="117.97" y1="260.31" x2="121.97" y2="260.31" stroke="#c5246c" stroke-width="0.9" />
<circle cx="119.97" cy="256.65" r="2.50" fill="#c5246c"/>
<line x1="137.70" y1="242.92" x2="137.70" y2="255.73" stroke="#c5246c" stroke-width="0.9" />
<line x1="135.70" y1="242.92" x2="139.70" y2="242.92" stroke="#c5246c" stroke-width="0.9" />
<line x1="135.70" y1="255.73" x2="139.70" y2="255.73" stroke="#c5246c" stroke-width="0.9" />
<circle cx="137.70" cy="249.33" r="2.50" fill="#c5246c"/>
<line x1="153.87" y1="235.42" x2="153.87" y2="248.23" stroke="#c5246c" stroke-width="0.9" />
<line x1="151.87" y1="235.42" x2="155.87" y2="235.42" stroke="#c5246c" stroke-width="0.9" />
<line x1="151.87" y1="248.23" x2="155.87" y2="248.23" stroke="#c5246c" stroke-width="0.9" />
<circle cx="153.87" cy="241.82" r="2.50" fill="#c5246c"/>
<line x1="171.60" y1="232.21" x2="171.60" y2="243.19" stroke="#c5246c" stroke-width="0.9" />
<line x1="169.60" y1="232.21" x2="173.60" y2="232.21" stroke="#c5246c" stroke-width="0.9" />
<line x1="169.60" y1="243.19" x2="173.60" y2="243.19" stroke="#c5246c" stroke-width="0.9" />
<circle cx="171.60" cy="237.70" r="2.50" fill="#c5246c"/>
<line x1="187.77" y1="230.38" x2="187.77" y2="239.53" stroke="#c5246c" stroke-width="0.9" />
<line x1="185.77" y1="230.38" x2="189.77" y2="230.38" stroke="#c5246c" stroke-width="0.9" />
<line x1="185.77" y1="239.53" x2="189.77" y2="239.53" stroke="#c5246c" stroke-width="0.9" />
<circle cx="187.77" cy="234.96" r="2.50" fill="#c5246c"/>
<line x1="205.50" y1="230.38" x2="205.50" y2="237.70" stroke="#c5246c" stroke-width="0.9" />
<line x1="203.50" y1="230.38" x2="207.50" y2="230.38" stroke="#c5246c" stroke-width="0.9" />
<line x1="203.50" y1="237.70" x2="207.50" y2="237.70" stroke="#c5246c" stroke-width="0.9" />
<circle cx="205.50" cy="234.04" r="2.50" fill="#c5246c"/>
<line x1="69.90" y1="278.88" x2="69.90" y2="284.37" stroke="#ee9a72" stroke-width="0.9" />
<line x1="67.90" y1="278.88" x2="71.90" y2="278.88" stroke="#ee9a72" stroke-width="0.9" />
<line x1="67.90" y1="284.37" x2="71.90" y2="284.37" stroke="#ee9a72" stroke-width="0.9" />
<path d="M67.30,279.68L72.50,279.68L69.90,284.10Z" fill="#ee9a72"/>
<line x1="86.07" y1="269.27" x2="86.07" y2="276.59" stroke="#ee9a72" stroke-width="0.9" />
<line x1="84.07" y1="269.27" x2="88.07" y2="269.27" stroke="#ee9a72" stroke-width="0.9" />
<line x1="84.07" y1="276.59" x2="88.07" y2="276.59" stroke="#ee9a72" stroke-width="0.9" />
<path d="M83.47,270.98L88.67,270.98L86.07,275.40Z" fill="#ee9a72"/>
<line x1="103.80" y1="223.43" x2="103.80" y2="227.09" stroke="#ee9a72" stroke-width="0.9" />
<line x1="101.80" y1="223.43" x2="105.80" y2="223.43" stroke="#ee9a72" stroke-width="0.9" />
<line x1="101.80" y1="227.09" x2="105.80" y2="227.09" stroke="#ee9a72" stroke-width="0.9" />
<path d="M101.20,223.31L106.40,223.31L103.80,227.73Z" fill="#ee9a72"/>
<path d="M117.37,204.83L122.57,204.83L119.97,209.25Z" fill="#ee9a72"/>
<path d="M135.10,203.27L140.30,203.27L137.70,207.69Z" fill="#ee9a72"/>
<path d="M151.27,203.27L156.47,203.27L153.87,207.69Z" fill="#ee9a72"/>
<path d="M169.00,203.27L174.20,203.27L171.60,207.69Z" fill="#ee9a72"/>
<path d="M185.17,203.27L190.37,203.27L187.77,207.69Z" fill="#ee9a72"/>
<path d="M202.90,203.27L208.10,203.27L205.50,207.69Z" fill="#ee9a72"/>
<line x1="69.90" y1="276.41" x2="69.90" y2="280.07" stroke="#e96f74" stroke-width="0.9" />
<line x1="67.90" y1="276.41" x2="71.90" y2="276.41" stroke="#e96f74" stroke-width="0.9" />
<line x1="67.90" y1="280.07" x2="71.90" y2="280.07" stroke="#e96f74" stroke-width="0.9" />
<path d="M69.90,276.04L72.10,278.24L69.90,280.44L67.70,278.24Z" fill="#e96f74"/>
<line x1="86.07" y1="255.55" x2="86.07" y2="261.04" stroke="#e96f74" stroke-width="0.9" />
<line x1="84.07" y1="255.55" x2="88.07" y2="255.55" stroke="#e96f74" stroke-width="0.9" />
<line x1="84.07" y1="261.04" x2="88.07" y2="261.04" stroke="#e96f74" stroke-width="0.9" />
<path d="M86.07,256.09L88.27,258.29L86.07,260.49L83.87,258.29Z" fill="#e96f74"/>
<path d="M103.80,213.55L106.00,215.75L103.80,217.94L101.60,215.75Z" fill="#e96f74"/>
<path d="M119.97,202.56L122.17,204.76L119.97,206.96L117.77,204.76Z" fill="#e96f74"/>
<path d="M137.70,200.19L139.90,202.39L137.70,204.59L135.50,202.39Z" fill="#e96f74"/>
<path d="M153.87,199.82L156.07,202.02L153.87,204.22L151.67,202.02Z" fill="#e96f74"/>
<path d="M171.60,199.82L173.80,202.02L171.60,204.22L169.40,202.02Z" fill="#e96f74"/>
<path d="M187.77,199.82L189.97,202.02L187.77,204.22L185.57,202.02Z" fill="#e96f74"/>
<path d="M205.50,199.82L207.70,202.02L205.50,204.22L203.30,202.02Z" fill="#e96f74"/>
<line x1="69.90" y1="281.62" x2="69.90" y2="290.77" stroke="#58bde0" stroke-width="0.9" />
<line x1="67.90" y1="281.62" x2="71.90" y2="281.62" stroke="#58bde0" stroke-width="0.9" />
<line x1="67.90" y1="290.77" x2="71.90" y2="290.77" stroke="#58bde0" stroke-width="0.9" />
<rect x="67.60" y="283.90" width="4.60" height="4.60" fill="#58bde0"/>
<rect x="83.77" y="283.90" width="4.60" height="4.60" fill="#58bde0"/>
<rect x="101.50" y="274.02" width="4.60" height="4.60" fill="#58bde0"/>
<rect x="117.67" y="229.91" width="4.60" height="4.60" fill="#58bde0"/>
<rect x="135.40" y="205.67" width="4.60" height="4.60" fill="#58bde0"/>
<rect x="151.57" y="202.56" width="4.60" height="4.60" fill="#58bde0"/>
<rect x="169.30" y="202.01" width="4.60" height="4.60" fill="#58bde0"/>
<rect x="185.47" y="201.09" width="4.60" height="4.60" fill="#58bde0"/>
<rect x="203.20" y="200.63" width="4.60" height="4.60" fill="#58bde0"/>
<line x1="69.90" y1="281.62" x2="69.90" y2="287.12" stroke="#6ecac2" stroke-width="0.9" />
<line x1="67.90" y1="281.62" x2="71.90" y2="281.62" stroke="#6ecac2" stroke-width="0.9" />
<line x1="67.90" y1="287.12" x2="71.90" y2="287.12" stroke="#6ecac2" stroke-width="0.9" />
<path d="M67.30,286.32L72.50,286.32L69.90,281.90Z" fill="#6ecac2"/>
<line x1="86.07" y1="279.34" x2="86.07" y2="283.00" stroke="#6ecac2" stroke-width="0.9" />
<line x1="84.07" y1="279.34" x2="88.07" y2="279.34" stroke="#6ecac2" stroke-width="0.9" />
<line x1="84.07" y1="283.00" x2="88.07" y2="283.00" stroke="#6ecac2" stroke-width="0.9" />
<path d="M83.47,283.12L88.67,283.12L86.07,278.70Z" fill="#6ecac2"/>
<line x1="103.80" y1="254.54" x2="103.80" y2="263.69" stroke="#6ecac2" stroke-width="0.9" />
<line x1="101.80" y1="254.54" x2="105.80" y2="254.54" stroke="#6ecac2" stroke-width="0.9" />
<line x1="101.80" y1="263.69" x2="105.80" y2="263.69" stroke="#6ecac2" stroke-width="0.9" />
<path d="M101.20,261.07L106.40,261.07L103.80,256.65Z" fill="#6ecac2"/>
<line x1="119.97" y1="235.14" x2="119.97" y2="240.63" stroke="#6ecac2" stroke-width="0.9" />
<line x1="117.97" y1="235.14" x2="121.97" y2="235.14" stroke="#6ecac2" stroke-width="0.9" />
<line x1="117.97" y1="240.63" x2="121.97" y2="240.63" stroke="#6ecac2" stroke-width="0.9" />
<path d="M117.37,239.84L122.57,239.84L119.97,235.42Z" fill="#6ecac2"/>
<line x1="137.70" y1="221.23" x2="137.70" y2="224.89" stroke="#6ecac2" stroke-width="0.9" />
<line x1="135.70" y1="221.23" x2="139.70" y2="221.23" stroke="#6ecac2" stroke-width="0.9" />
<line x1="135.70" y1="224.89" x2="139.70" y2="224.89" stroke="#6ecac2" stroke-width="0.9" />
<path d="M135.10,225.01L140.30,225.01L137.70,220.59Z" fill="#6ecac2"/>
<line x1="153.87" y1="213.27" x2="153.87" y2="216.93" stroke="#6ecac2" stroke-width="0.9" />
<line x1="151.87" y1="213.27" x2="155.87" y2="213.27" stroke="#6ecac2" stroke-width="0.9" />
<line x1="151.87" y1="216.93" x2="155.87" y2="216.93" stroke="#6ecac2" stroke-width="0.9" />
<path d="M151.27,217.05L156.47,217.05L153.87,212.63Z" fill="#6ecac2"/>
<line x1="171.60" y1="208.42" x2="171.60" y2="212.08" stroke="#6ecac2" stroke-width="0.9" />
<line x1="169.60" y1="208.42" x2="173.60" y2="208.42" stroke="#6ecac2" stroke-width="0.9" />
<line x1="169.60" y1="212.08" x2="173.60" y2="212.08" stroke="#6ecac2" stroke-width="0.9" />
<path d="M169.00,212.20L174.20,212.20L171.60,207.78Z" fill="#6ecac2"/>
<path d="M185.17,209.64L190.37,209.64L187.77,205.22Z" fill="#6ecac2"/>
<path d="M202.90,209.46L208.10,209.46L205.50,205.04Z" fill="#6ecac2"/>
<line x1="216.00" y1="194.90" x2="228.00" y2="194.90" stroke="#c5246c" stroke-width="1.3" />
<circle cx="222.10" cy="194.90" r="2.70" fill="#c5246c"/>
<text x="235.00" y="197.70" font-size="9.1" text-anchor="start" >BT-474</text>
<line x1="216.00" y1="207.80" x2="228.00" y2="207.80" stroke="#ee9a72" stroke-width="1.3" />
<path d="M219.29,205.69L224.91,205.69L222.10,210.47Z" fill="#ee9a72"/>
<text x="235.00" y="210.60" font-size="9.1" text-anchor="start" >Calu-3</text>
<line x1="216.00" y1="220.80" x2="228.00" y2="220.80" stroke="#e96f74" stroke-width="1.3" />
<path d="M222.10,218.42L224.48,220.80L222.10,223.18L219.72,220.80Z" fill="#e96f74"/>
<text x="235.00" y="223.60" font-size="9.1" text-anchor="start" >SK-BR-3</text>
<line x1="216.00" y1="233.80" x2="228.00" y2="233.80" stroke="#58bde0" stroke-width="1.3" />
<rect x="219.62" y="231.32" width="4.97" height="4.97" fill="#58bde0"/>
<text x="235.00" y="236.60" font-size="9.1" text-anchor="start" >KPL-4</text>
<line x1="216.00" y1="246.80" x2="228.00" y2="246.80" stroke="#6ecac2" stroke-width="1.3" />
<path d="M219.29,248.91L224.91,248.91L222.10,244.13Z" fill="#6ecac2"/>
<text x="235.00" y="249.60" font-size="9.1" text-anchor="start" >MDA-MB-453</text>
<text x="296.30" y="168.40" font-size="14" text-anchor="start" font-weight="bold" >c</text>
<line x1="330.20" y1="193.70" x2="330.20" y2="306.02" stroke="#1a1a1a" stroke-width="1.1" />
<line x1="325.60" y1="193.70" x2="330.20" y2="193.70" stroke="#1a1a1a" stroke-width="1.1" />
<text x="324.40" y="196.94" font-size="9.0" text-anchor="end" >100</text>
<line x1="325.60" y1="212.42" x2="330.20" y2="212.42" stroke="#1a1a1a" stroke-width="1.1" />
<text x="324.40" y="215.66" font-size="9.0" text-anchor="end" >80</text>
<line x1="325.60" y1="231.14" x2="330.20" y2="231.14" stroke="#1a1a1a" stroke-width="1.1" />
<text x="324.40" y="234.38" font-size="9.0" text-anchor="end" >60</text>
<line x1="325.60" y1="249.86" x2="330.20" y2="249.86" stroke="#1a1a1a" stroke-width="1.1" />
<text x="324.40" y="253.10" font-size="9.0" text-anchor="end" >40</text>
<line x1="325.60" y1="268.58" x2="330.20" y2="268.58" stroke="#1a1a1a" stroke-width="1.1" />
<text x="324.40" y="271.82" font-size="9.0" text-anchor="end" >20</text>
<line x1="325.60" y1="287.30" x2="330.20" y2="287.30" stroke="#1a1a1a" stroke-width="1.1" />
<text x="324.40" y="290.54" font-size="9.0" text-anchor="end" >0</text>
<line x1="325.60" y1="306.02" x2="330.20" y2="306.02" stroke="#1a1a1a" stroke-width="1.1" />
<text x="324.40" y="309.26" font-size="9.0" text-anchor="end" >-20</text>
<line x1="330.20" y1="287.30" x2="506.70" y2="287.30" stroke="#1a1a1a" stroke-width="1.1" />
<line x1="361.60" y1="287.30" x2="361.60" y2="291.90" stroke="#1a1a1a" stroke-width="1.1" />
<text x="362.40" y="304.0" font-size="9.0" text-anchor="middle">10<tspan font-size="6.2" dy="-3.6">0</tspan></text>
<line x1="393.90" y1="287.30" x2="393.90" y2="291.90" stroke="#1a1a1a" stroke-width="1.1" />
<text x="394.70" y="304.0" font-size="9.0" text-anchor="middle">10<tspan font-size="6.2" dy="-3.6">1</tspan></text>
<line x1="426.20" y1="287.30" x2="426.20" y2="291.90" stroke="#1a1a1a" stroke-width="1.1" />
<text x="427.00" y="304.0" font-size="9.0" text-anchor="middle">10<tspan font-size="6.2" dy="-3.6">2</tspan></text>
<line x1="458.50" y1="287.30" x2="458.50" y2="291.90" stroke="#1a1a1a" stroke-width="1.1" />
<text x="459.30" y="304.0" font-size="9.0" text-anchor="middle">10<tspan font-size="6.2" dy="-3.6">3</tspan></text>
<line x1="490.80" y1="287.30" x2="490.80" y2="291.90" stroke="#1a1a1a" stroke-width="1.1" />
<text x="491.60" y="304.0" font-size="9.0" text-anchor="middle">10<tspan font-size="6.2" dy="-3.6">4</tspan></text>
<text x="415.10" y="185.00" font-size="9.25" text-anchor="middle" >T-DM1</text>
<text x="415.50" y="318.80" font-size="9.35" text-anchor="middle" >Drug (ng/mL)</text>
<text transform="translate(304.70,242.30) rotate(-90)" font-size="9.45" text-anchor="middle">Inhibition (%)</text>
<path d="M344.71,287.77L345.32,287.77L345.93,287.77L346.54,287.77L347.15,287.77L347.75,287.77L348.36,287.77L348.97,287.77L349.58,287.77L350.19,287.77L350.80,287.77L351.41,287.77L352.02,287.77L352.62,287.77L353.23,287.77L353.84,287.77L354.45,287.77L355.06,287.77L355.67,287.77L356.28,287.77L356.89,287.77L357.49,287.77L358.10,287.77L358.71,287.77L359.32,287.77L359.93,287.77L360.54,287.77L361.15,287.77L361.75,287.77L362.36,287.77L362.97,287.77L363.58,287.77L364.19,287.77L364.80,287.77L365.41,287.77L366.02,287.76L366.62,287.76L367.23,287.76L367.84,287.76L368.45,287.76L369.06,287.76L369.67,287.76L370.28,287.76L370.89,287.76L371.49,287.76L372.10,287.75L372.71,287.75L373.32,287.75L373.93,287.75L374.54,287.74L375.15,287.74L375.75,287.73L376.36,287.73L376.97,287.72L377.58,287.71L378.19,287.71L378.80,287.70L379.41,287.68L380.02,287.67L380.62,287.65L381.23,287.63L381.84,287.61L382.45,287.59L383.06,287.56L383.67,287.52L384.28,287.48L384.89,287.44L385.49,287.38L386.10,287.32L386.71,287.25L387.32,287.16L387.93,287.06L388.54,286.95L389.15,286.81L389.76,286.66L390.36,286.48L390.97,286.27L391.58,286.03L392.19,285.76L392.80,285.43L393.41,285.06L394.02,284.64L394.62,284.14L395.23,283.58L395.84,282.92L396.45,282.18L397.06,281.33L397.67,280.36L398.28,279.26L398.89,278.02L399.49,276.62L400.10,275.05L400.71,273.30L401.32,271.37L401.93,269.23L402.54,266.90L403.15,264.38L403.76,261.66L404.36,258.77L404.97,255.72L405.58,252.53L406.19,249.24L406.80,245.88L407.41,242.49L408.02,239.11L408.62,235.77L409.23,232.52L409.84,229.37L410.45,226.37L411.06,223.54L411.67,220.89L412.28,218.43L412.89,216.16L413.49,214.10L414.10,212.23L414.71,210.54L415.32,209.03L415.93,207.69L416.54,206.50L417.15,205.44L417.76,204.52L418.36,203.70L418.97,202.99L419.58,202.37L420.19,201.83L420.80,201.36L421.41,200.95L422.02,200.60L422.63,200.29L423.23,200.03L423.84,199.80L424.45,199.60L425.06,199.43L425.67,199.29L426.28,199.16L426.89,199.05L427.49,198.96L428.10,198.88L428.71,198.81L429.32,198.75L429.93,198.69L430.54,198.65L431.15,198.61L431.76,198.58L432.36,198.55L432.97,198.53L433.58,198.51L434.19,198.49L434.80,198.47L435.41,198.46L436.02,198.45L436.63,198.44L437.23,198.43L437.84,198.42L438.45,198.42L439.06,198.41L439.67,198.41L440.28,198.40L440.89,198.40L441.49,198.40L442.10,198.40L442.71,198.39L443.32,198.39L443.93,198.39L444.54,198.39L445.15,198.39L445.76,198.39L446.36,198.39L446.97,198.38L447.58,198.38L448.19,198.38L448.80,198.38L449.41,198.38L450.02,198.38L450.63,198.38L451.23,198.38L451.84,198.38L452.45,198.38L453.06,198.38L453.67,198.38L454.28,198.38L454.89,198.38L455.50,198.38L456.10,198.38L456.71,198.38L457.32,198.38L457.93,198.38L458.54,198.38L459.15,198.38L459.76,198.38L460.36,198.38L460.97,198.38L461.58,198.38L462.19,198.38L462.80,198.38L463.41,198.38L464.02,198.38L464.63,198.38L465.23,198.38L465.84,198.38L466.45,198.38L467.06,198.38L467.67,198.38L468.28,198.38L468.89,198.38L469.50,198.38L470.10,198.38L470.71,198.38L471.32,198.38L471.93,198.38L472.54,198.38L473.15,198.38L473.76,198.38L474.36,198.38L474.97,198.38L475.58,198.38L476.19,198.38L476.80,198.38L477.41,198.38L478.02,198.38L478.63,198.38L479.23,198.38L479.84,198.38L480.45,198.38L481.06,198.38L481.67,198.38L482.28,198.38L482.89,198.38L483.50,198.38L484.10,198.38L484.71,198.38L485.32,198.38L485.93,198.38L486.54,198.38L487.15,198.38L487.76,198.38L488.37,198.38L488.97,198.38L489.58,198.38L490.19,198.38L490.80,198.38" stroke="#c5246c" stroke-width="1.6" fill="none" />
<path d="M344.71,287.72L345.32,287.72L345.93,287.72L346.54,287.72L347.15,287.71L347.75,287.71L348.36,287.71L348.97,287.70L349.58,287.70L350.19,287.70L350.80,287.69L351.41,287.69L352.02,287.69L352.62,287.68L353.23,287.68L353.84,287.67L354.45,287.67L355.06,287.66L355.67,287.66L356.28,287.65L356.89,287.64L357.49,287.64L358.10,287.63L358.71,287.62L359.32,287.62L359.93,287.61L360.54,287.60L361.15,287.59L361.75,287.58L362.36,287.57L362.97,287.56L363.58,287.55L364.19,287.54L364.80,287.52L365.41,287.51L366.02,287.50L366.62,287.48L367.23,287.47L367.84,287.45L368.45,287.43L369.06,287.42L369.67,287.40L370.28,287.38L370.89,287.36L371.49,287.34L372.10,287.31L372.71,287.29L373.32,287.26L373.93,287.24L374.54,287.21L375.15,287.18L375.75,287.15L376.36,287.12L376.97,287.08L377.58,287.04L378.19,287.01L378.80,286.97L379.41,286.92L380.02,286.88L380.62,286.83L381.23,286.78L381.84,286.73L382.45,286.68L383.06,286.62L383.67,286.56L384.28,286.49L384.89,286.43L385.49,286.36L386.10,286.28L386.71,286.20L387.32,286.12L387.93,286.04L388.54,285.95L389.15,285.85L389.76,285.75L390.36,285.65L390.97,285.54L391.58,285.42L392.19,285.30L392.80,285.17L393.41,285.04L394.02,284.90L394.62,284.75L395.23,284.60L395.84,284.44L396.45,284.27L397.06,284.09L397.67,283.90L398.28,283.71L398.89,283.50L399.49,283.29L400.10,283.06L400.71,282.83L401.32,282.58L401.93,282.32L402.54,282.05L403.15,281.77L403.76,281.48L404.36,281.17L404.97,280.85L405.58,280.51L406.19,280.17L406.80,279.80L407.41,279.42L408.02,279.03L408.62,278.62L409.23,278.19L409.84,277.74L410.45,277.28L411.06,276.80L411.67,276.31L412.28,275.79L412.89,275.25L413.49,274.70L414.10,274.13L414.71,273.53L415.32,272.92L415.93,272.29L416.54,271.64L417.15,270.97L417.76,270.27L418.36,269.56L418.97,268.83L419.58,268.08L420.19,267.31L420.80,266.52L421.41,265.72L422.02,264.89L422.63,264.05L423.23,263.19L423.84,262.32L424.45,261.43L425.06,260.53L425.67,259.61L426.28,258.68L426.89,257.74L427.49,256.79L428.10,255.82L428.71,254.86L429.32,253.88L429.93,252.90L430.54,251.91L431.15,250.92L431.76,249.93L432.36,248.94L432.97,247.95L433.58,246.97L434.19,245.98L434.80,245.01L435.41,244.03L436.02,243.07L436.63,242.11L437.23,241.17L437.84,240.23L438.45,239.31L439.06,238.40L439.67,237.50L440.28,236.62L440.89,235.76L441.49,234.91L442.10,234.08L442.71,233.26L443.32,232.47L443.93,231.69L444.54,230.93L445.15,230.19L445.76,229.47L446.36,228.77L446.97,228.09L447.58,227.43L448.19,226.79L448.80,226.17L449.41,225.57L450.02,224.99L450.63,224.42L451.23,223.88L451.84,223.36L452.45,222.85L453.06,222.36L453.67,221.89L454.28,221.44L454.89,221.01L455.50,220.59L456.10,220.19L456.71,219.80L457.32,219.43L457.93,219.07L458.54,218.73L459.15,218.41L459.76,218.09L460.36,217.79L460.97,217.51L461.58,217.23L462.19,216.97L462.80,216.72L463.41,216.48L464.02,216.25L464.63,216.03L465.23,215.82L465.84,215.62L466.45,215.43L467.06,215.25L467.67,215.08L468.28,214.91L468.89,214.75L469.50,214.60L470.10,214.46L470.71,214.32L471.32,214.19L471.93,214.07L472.54,213.95L473.15,213.84L473.76,213.73L474.36,213.63L474.97,213.53L475.58,213.44L476.19,213.35L476.80,213.27L477.41,213.19L478.02,213.11L478.63,213.04L479.23,212.97L479.84,212.91L480.45,212.85L481.06,212.79L481.67,212.73L482.28,212.68L482.89,212.63L483.50,212.58L484.10,212.54L484.71,212.49L485.32,212.45L485.93,212.41L486.54,212.37L487.15,212.34L487.76,212.31L488.37,212.27L488.97,212.24L489.58,212.21L490.19,212.19L490.80,212.16" stroke="#ee9a72" stroke-width="1.2" fill="none" />
<path d="M344.71,285.89L345.32,285.89L345.93,285.89L346.54,285.89L347.15,285.89L347.75,285.89L348.36,285.89L348.97,285.89L349.58,285.89L350.19,285.89L350.80,285.89L351.41,285.89L352.02,285.89L352.62,285.88L353.23,285.88L353.84,285.88L354.45,285.87L355.06,285.87L355.67,285.87L356.28,285.86L356.89,285.85L357.49,285.85L358.10,285.84L358.71,285.82L359.32,285.81L359.93,285.79L360.54,285.77L361.15,285.75L361.75,285.72L362.36,285.69L362.97,285.65L363.58,285.61L364.19,285.55L364.80,285.49L365.41,285.41L366.02,285.32L366.62,285.21L367.23,285.08L367.84,284.93L368.45,284.75L369.06,284.54L369.67,284.29L370.28,283.99L370.89,283.64L371.49,283.22L372.10,282.73L372.71,282.16L373.32,281.48L373.93,280.70L374.54,279.78L375.15,278.72L375.75,277.49L376.36,276.07L376.97,274.46L377.58,272.62L378.19,270.55L378.80,268.23L379.41,265.65L380.02,262.83L380.62,259.77L381.23,256.49L381.84,253.01L382.45,249.39L383.06,245.66L383.67,241.88L384.28,238.11L384.89,234.40L385.49,230.80L386.10,227.36L386.71,224.13L387.32,221.11L387.93,218.34L388.54,215.82L389.15,213.56L389.76,211.53L390.36,209.74L390.97,208.17L391.58,206.79L392.19,205.60L392.80,204.57L393.41,203.68L394.02,202.92L394.62,202.27L395.23,201.72L395.84,201.24L396.45,200.84L397.06,200.50L397.67,200.21L398.28,199.97L398.89,199.76L399.49,199.59L400.10,199.44L400.71,199.32L401.32,199.22L401.93,199.13L402.54,199.05L403.15,198.99L403.76,198.94L404.36,198.89L404.97,198.86L405.58,198.83L406.19,198.80L406.80,198.78L407.41,198.76L408.02,198.74L408.62,198.73L409.23,198.72L409.84,198.71L410.45,198.70L411.06,198.70L411.67,198.69L412.28,198.69L412.89,198.68L413.49,198.68L414.10,198.68L414.71,198.67L415.32,198.67L415.93,198.67L416.54,198.67L417.15,198.67L417.76,198.67L418.36,198.67L418.97,198.66L419.58,198.66L420.19,198.66L420.80,198.66L421.41,198.66L422.02,198.66L422.63,198.66L423.23,198.66L423.84,198.66L424.45,198.66L425.06,198.66L425.67,198.66L426.28,198.66L426.89,198.66L427.49,198.66L428.10,198.66L428.71,198.66L429.32,198.66L429.93,198.66L430.54,198.66L431.15,198.66L431.76,198.66L432.36,198.66L432.97,198.66L433.58,198.66L434.19,198.66L434.80,198.66L435.41,198.66L436.02,198.66L436.63,198.66L437.23,198.66L437.84,198.66L438.45,198.66L439.06,198.66L439.67,198.66L440.28,198.66L440.89,198.66L441.49,198.66L442.10,198.66L442.71,198.66L443.32,198.66L443.93,198.66L444.54,198.66L445.15,198.66L445.76,198.66L446.36,198.66L446.97,198.66L447.58,198.66L448.19,198.66L448.80,198.66L449.41,198.66L450.02,198.66L450.63,198.66L451.23,198.66L451.84,198.66L452.45,198.66L453.06,198.66L453.67,198.66L454.28,198.66L454.89,198.66L455.50,198.66L456.10,198.66L456.71,198.66L457.32,198.66L457.93,198.66L458.54,198.66L459.15,198.66L459.76,198.66L460.36,198.66L460.97,198.66L461.58,198.66L462.19,198.66L462.80,198.66L463.41,198.66L464.02,198.66L464.63,198.66L465.23,198.66L465.84,198.66L466.45,198.66L467.06,198.66L467.67,198.66L468.28,198.66L468.89,198.66L469.50,198.66L470.10,198.66L470.71,198.66L471.32,198.66L471.93,198.66L472.54,198.66L473.15,198.66L473.76,198.66L474.36,198.66L474.97,198.66L475.58,198.66L476.19,198.66L476.80,198.66L477.41,198.66L478.02,198.66L478.63,198.66L479.23,198.66L479.84,198.66L480.45,198.66L481.06,198.66L481.67,198.66L482.28,198.66L482.89,198.66L483.50,198.66L484.10,198.66L484.71,198.66L485.32,198.66L485.93,198.66L486.54,198.66L487.15,198.66L487.76,198.66L488.37,198.66L488.97,198.66L489.58,198.66L490.19,198.66L490.80,198.66" stroke="#e96f74" stroke-width="1.2" fill="none" />
<path d="M344.71,284.59L345.32,284.59L345.93,284.59L346.54,284.59L347.15,284.59L347.75,284.59L348.36,284.59L348.97,284.59L349.58,284.59L350.19,284.59L350.80,284.59L351.41,284.59L352.02,284.59L352.62,284.59L353.23,284.59L353.84,284.59L354.45,284.59L355.06,284.59L355.67,284.59L356.28,284.59L356.89,284.59L357.49,284.59L358.10,284.59L358.71,284.59L359.32,284.59L359.93,284.59L360.54,284.59L361.15,284.59L361.75,284.59L362.36,284.59L362.97,284.59L363.58,284.59L364.19,284.59L364.80,284.59L365.41,284.59L366.02,284.59L366.62,284.59L367.23,284.59L367.84,284.59L368.45,284.59L369.06,284.59L369.67,284.59L370.28,284.59L370.89,284.59L371.49,284.59L372.10,284.59L372.71,284.59L373.32,284.59L373.93,284.59L374.54,284.59L375.15,284.59L375.75,284.59L376.36,284.59L376.97,284.59L377.58,284.59L378.19,284.59L378.80,284.59L379.41,284.59L380.02,284.59L380.62,284.59L381.23,284.59L381.84,284.58L382.45,284.58L383.06,284.58L383.67,284.58L384.28,284.58L384.89,284.57L385.49,284.55L386.10,284.51L386.71,284.43L387.32,284.27L387.93,283.96L388.54,283.34L389.15,282.12L389.76,279.79L390.36,275.47L390.97,268.04L391.58,256.67L392.19,242.08L392.80,227.07L393.41,214.74L394.02,206.38L394.62,201.40L395.23,198.67L395.84,197.24L396.45,196.50L397.06,196.13L397.67,195.95L398.28,195.85L398.89,195.81L399.49,195.78L400.10,195.77L400.71,195.77L401.32,195.76L401.93,195.76L402.54,195.76L403.15,195.76L403.76,195.76L404.36,195.76L404.97,195.76L405.58,195.76L406.19,195.76L406.80,195.76L407.41,195.76L408.02,195.76L408.62,195.76L409.23,195.76L409.84,195.76L410.45,195.76L411.06,195.76L411.67,195.76L412.28,195.76L412.89,195.76L413.49,195.76L414.10,195.76L414.71,195.76L415.32,195.76L415.93,195.76L416.54,195.76L417.15,195.76L417.76,195.76L418.36,195.76L418.97,195.76L419.58,195.76L420.19,195.76L420.80,195.76L421.41,195.76L422.02,195.76L422.63,195.76L423.23,195.76L423.84,195.76L424.45,195.76L425.06,195.76L425.67,195.76L426.28,195.76L426.89,195.76L427.49,195.76L428.10,195.76L428.71,195.76L429.32,195.76L429.93,195.76L430.54,195.76L431.15,195.76L431.76,195.76L432.36,195.76L432.97,195.76L433.58,195.76L434.19,195.76L434.80,195.76L435.41,195.76L436.02,195.76L436.63,195.76L437.23,195.76L437.84,195.76L438.45,195.76L439.06,195.76L439.67,195.76L440.28,195.76L440.89,195.76L441.49,195.76L442.10,195.76L442.71,195.76L443.32,195.76L443.93,195.76L444.54,195.76L445.15,195.76L445.76,195.76L446.36,195.76L446.97,195.76L447.58,195.76L448.19,195.76L448.80,195.76L449.41,195.76L450.02,195.76L450.63,195.76L451.23,195.76L451.84,195.76L452.45,195.76L453.06,195.76L453.67,195.76L454.28,195.76L454.89,195.76L455.50,195.76L456.10,195.76L456.71,195.76L457.32,195.76L457.93,195.76L458.54,195.76L459.15,195.76L459.76,195.76L460.36,195.76L460.97,195.76L461.58,195.76L462.19,195.76L462.80,195.76L463.41,195.76L464.02,195.76L464.63,195.76L465.23,195.76L465.84,195.76L466.45,195.76L467.06,195.76L467.67,195.76L468.28,195.76L468.89,195.76L469.50,195.76L470.10,195.76L470.71,195.76L471.32,195.76L471.93,195.76L472.54,195.76L473.15,195.76L473.76,195.76L474.36,195.76L474.97,195.76L475.58,195.76L476.19,195.76L476.80,195.76L477.41,195.76L478.02,195.76L478.63,195.76L479.23,195.76L479.84,195.76L480.45,195.76L481.06,195.76L481.67,195.76L482.28,195.76L482.89,195.76L483.50,195.76L484.10,195.76L484.71,195.76L485.32,195.76L485.93,195.76L486.54,195.76L487.15,195.76L487.76,195.76L488.37,195.76L488.97,195.76L489.58,195.76L490.19,195.76L490.80,195.76" stroke="#58bde0" stroke-width="1.6" fill="none" />
<path d="M344.71,289.57L345.32,289.55L345.93,289.54L346.54,289.52L347.15,289.50L347.75,289.49L348.36,289.47L348.97,289.45L349.58,289.43L350.19,289.40L350.80,289.38L351.41,289.36L352.02,289.33L352.62,289.30L353.23,289.27L353.84,289.24L354.45,289.21L355.06,289.18L355.67,289.14L356.28,289.10L356.89,289.06L357.49,289.02L358.10,288.98L358.71,288.93L359.32,288.88L359.93,288.83L360.54,288.77L361.15,288.71L361.75,288.65L362.36,288.59L362.97,288.52L363.58,288.45L364.19,288.37L364.80,288.29L365.41,288.21L366.02,288.12L366.62,288.03L367.23,287.93L367.84,287.82L368.45,287.71L369.06,287.60L369.67,287.48L370.28,287.35L370.89,287.22L371.49,287.08L372.10,286.93L372.71,286.77L373.32,286.61L373.93,286.43L374.54,286.25L375.15,286.06L375.75,285.86L376.36,285.65L376.97,285.43L377.58,285.19L378.19,284.95L378.80,284.69L379.41,284.42L380.02,284.14L380.62,283.84L381.23,283.53L381.84,283.21L382.45,282.87L383.06,282.51L383.67,282.13L384.28,281.74L384.89,281.33L385.49,280.91L386.10,280.46L386.71,279.99L387.32,279.50L387.93,279.00L388.54,278.47L389.15,277.91L389.76,277.34L390.36,276.74L390.97,276.12L391.58,275.47L392.19,274.80L392.80,274.11L393.41,273.39L394.02,272.64L394.62,271.87L395.23,271.07L395.84,270.24L396.45,269.39L397.06,268.51L397.67,267.61L398.28,266.68L398.89,265.72L399.49,264.74L400.10,263.74L400.71,262.71L401.32,261.66L401.93,260.58L402.54,259.48L403.15,258.37L403.76,257.23L404.36,256.07L404.97,254.90L405.58,253.71L406.19,252.50L406.80,251.29L407.41,250.06L408.02,248.82L408.62,247.57L409.23,246.32L409.84,245.07L410.45,243.81L411.06,242.55L411.67,241.29L412.28,240.04L412.89,238.79L413.49,237.54L414.10,236.31L414.71,235.09L415.32,233.87L415.93,232.67L416.54,231.49L417.15,230.32L417.76,229.17L418.36,228.04L418.97,226.93L419.58,225.84L420.19,224.77L420.80,223.73L421.41,222.71L422.02,221.71L422.63,220.74L423.23,219.79L423.84,218.87L424.45,217.98L425.06,217.11L425.67,216.27L426.28,215.45L426.89,214.66L427.49,213.90L428.10,213.16L428.71,212.45L429.32,211.76L429.93,211.10L430.54,210.46L431.15,209.85L431.76,209.26L432.36,208.69L432.97,208.15L433.58,207.63L434.19,207.13L434.80,206.65L435.41,206.19L436.02,205.74L436.63,205.32L437.23,204.92L437.84,204.54L438.45,204.17L439.06,203.82L439.67,203.48L440.28,203.16L440.89,202.85L441.49,202.56L442.10,202.28L442.71,202.02L443.32,201.77L443.93,201.53L444.54,201.30L445.15,201.08L445.76,200.87L446.36,200.67L446.97,200.49L447.58,200.31L448.19,200.14L448.80,199.98L449.41,199.82L450.02,199.68L450.63,199.54L451.23,199.41L451.84,199.28L452.45,199.16L453.06,199.05L453.67,198.94L454.28,198.84L454.89,198.74L455.50,198.65L456.10,198.57L456.71,198.48L457.32,198.40L457.93,198.33L458.54,198.26L459.15,198.19L459.76,198.13L460.36,198.07L460.97,198.01L461.58,197.96L462.19,197.91L462.80,197.86L463.41,197.81L464.02,197.77L464.63,197.73L465.23,197.69L465.84,197.65L466.45,197.61L467.06,197.58L467.67,197.55L468.28,197.52L468.89,197.49L469.50,197.46L470.10,197.44L470.71,197.41L471.32,197.39L471.93,197.37L472.54,197.35L473.15,197.33L473.76,197.31L474.36,197.29L474.97,197.28L475.58,197.26L476.19,197.25L476.80,197.23L477.41,197.22L478.02,197.20L478.63,197.19L479.23,197.18L479.84,197.17L480.45,197.16L481.06,197.15L481.67,197.14L482.28,197.13L482.89,197.12L483.50,197.12L484.10,197.11L484.71,197.10L485.32,197.10L485.93,197.09L486.54,197.08L487.15,197.08L487.76,197.07L488.37,197.07L488.97,197.06L489.58,197.06L490.19,197.05L490.80,197.05" stroke="#6ecac2" stroke-width="1.2" fill="none" />
<circle cx="344.71" cy="288.24" r="2.50" fill="#c5246c"/>
<circle cx="361.60" cy="288.24" r="2.50" fill="#c5246c"/>
<circle cx="377.01" cy="288.24" r="2.50" fill="#c5246c"/>
<line x1="393.90" y1="283.56" x2="393.90" y2="289.17" stroke="#c5246c" stroke-width="0.9" />
<line x1="391.90" y1="283.56" x2="395.90" y2="283.56" stroke="#c5246c" stroke-width="0.9" />
<line x1="391.90" y1="289.17" x2="395.90" y2="289.17" stroke="#c5246c" stroke-width="0.9" />
<circle cx="393.90" cy="286.36" r="2.50" fill="#c5246c"/>
<line x1="409.31" y1="225.52" x2="409.31" y2="240.50" stroke="#c5246c" stroke-width="0.9" />
<line x1="407.31" y1="225.52" x2="411.31" y2="225.52" stroke="#c5246c" stroke-width="0.9" />
<line x1="407.31" y1="240.50" x2="411.31" y2="240.50" stroke="#c5246c" stroke-width="0.9" />
<circle cx="409.31" cy="233.01" r="2.50" fill="#c5246c"/>
<circle cx="426.20" cy="198.38" r="2.50" fill="#c5246c"/>
<circle cx="441.61" cy="198.38" r="2.50" fill="#c5246c"/>
<circle cx="458.50" cy="198.38" r="2.50" fill="#c5246c"/>
<circle cx="473.91" cy="198.38" r="2.50" fill="#c5246c"/>
<circle cx="490.80" cy="198.38" r="2.50" fill="#c5246c"/>
<path d="M342.11,286.29L347.31,286.29L344.71,290.71Z" fill="#ee9a72"/>
<path d="M359.00,288.16L364.20,288.16L361.60,292.58Z" fill="#ee9a72"/>
<path d="M374.41,287.22L379.61,287.22L377.01,291.64Z" fill="#ee9a72"/>
<line x1="393.90" y1="282.15" x2="393.90" y2="287.77" stroke="#ee9a72" stroke-width="0.9" />
<line x1="391.90" y1="282.15" x2="395.90" y2="282.15" stroke="#ee9a72" stroke-width="0.9" />
<line x1="391.90" y1="287.77" x2="395.90" y2="287.77" stroke="#ee9a72" stroke-width="0.9" />
<path d="M391.30,281.14L396.50,281.14L393.90,285.56Z" fill="#ee9a72"/>
<line x1="409.31" y1="280.75" x2="409.31" y2="286.36" stroke="#ee9a72" stroke-width="0.9" />
<line x1="407.31" y1="280.75" x2="411.31" y2="280.75" stroke="#ee9a72" stroke-width="0.9" />
<line x1="407.31" y1="286.36" x2="411.31" y2="286.36" stroke="#ee9a72" stroke-width="0.9" />
<path d="M406.71,280.67L411.91,280.67L409.31,285.09Z" fill="#ee9a72"/>
<path d="M423.60,253.99L428.80,253.99L426.20,258.41Z" fill="#ee9a72"/>
<path d="M439.01,233.50L444.21,233.50L441.61,237.92Z" fill="#ee9a72"/>
<path d="M455.90,223.57L461.10,223.57L458.50,227.99Z" fill="#ee9a72"/>
<path d="M471.31,214.49L476.51,214.49L473.91,218.91Z" fill="#ee9a72"/>
<path d="M488.20,205.60L493.40,205.60L490.80,210.02Z" fill="#ee9a72"/>
<line x1="344.71" y1="271.39" x2="344.71" y2="297.13" stroke="#e96f74" stroke-width="0.9" />
<line x1="342.71" y1="271.39" x2="346.71" y2="271.39" stroke="#e96f74" stroke-width="0.9" />
<line x1="342.71" y1="297.13" x2="346.71" y2="297.13" stroke="#e96f74" stroke-width="0.9" />
<path d="M344.71,285.10L346.91,287.30L344.71,289.50L342.51,287.30Z" fill="#e96f74"/>
<line x1="361.60" y1="277.94" x2="361.60" y2="294.79" stroke="#e96f74" stroke-width="0.9" />
<line x1="359.60" y1="277.94" x2="363.60" y2="277.94" stroke="#e96f74" stroke-width="0.9" />
<line x1="359.60" y1="294.79" x2="363.60" y2="294.79" stroke="#e96f74" stroke-width="0.9" />
<path d="M361.60,286.04L363.80,288.24L361.60,290.44L359.40,288.24Z" fill="#e96f74"/>
<line x1="377.01" y1="262.96" x2="377.01" y2="281.68" stroke="#e96f74" stroke-width="0.9" />
<line x1="375.01" y1="262.96" x2="379.01" y2="262.96" stroke="#e96f74" stroke-width="0.9" />
<line x1="375.01" y1="281.68" x2="379.01" y2="281.68" stroke="#e96f74" stroke-width="0.9" />
<path d="M377.01,270.12L379.21,272.32L377.01,274.52L374.81,272.32Z" fill="#e96f74"/>
<line x1="393.90" y1="200.25" x2="393.90" y2="204.00" stroke="#e96f74" stroke-width="0.9" />
<line x1="391.90" y1="200.25" x2="395.90" y2="200.25" stroke="#e96f74" stroke-width="0.9" />
<line x1="391.90" y1="204.00" x2="395.90" y2="204.00" stroke="#e96f74" stroke-width="0.9" />
<path d="M393.90,199.92L396.10,202.12L393.90,204.32L391.70,202.12Z" fill="#e96f74"/>
<path d="M409.31,196.65L411.51,198.85L409.31,201.05L407.11,198.85Z" fill="#e96f74"/>
<path d="M426.20,196.46L428.40,198.66L426.20,200.86L424.00,198.66Z" fill="#e96f74"/>
<path d="M441.61,196.46L443.81,198.66L441.61,200.86L439.41,198.66Z" fill="#e96f74"/>
<path d="M458.50,196.46L460.70,198.66L458.50,200.86L456.30,198.66Z" fill="#e96f74"/>
<path d="M473.91,196.46L476.11,198.66L473.91,200.86L471.71,198.66Z" fill="#e96f74"/>
<path d="M490.80,196.46L493.00,198.66L490.80,200.86L488.60,198.66Z" fill="#e96f74"/>
<rect x="342.41" y="279.66" width="4.60" height="4.60" fill="#58bde0"/>
<rect x="359.30" y="284.53" width="4.60" height="4.60" fill="#58bde0"/>
<rect x="374.71" y="282.29" width="4.60" height="4.60" fill="#58bde0"/>
<rect x="391.60" y="204.50" width="4.60" height="4.60" fill="#58bde0"/>
<rect x="407.01" y="193.46" width="4.60" height="4.60" fill="#58bde0"/>
<rect x="423.90" y="193.46" width="4.60" height="4.60" fill="#58bde0"/>
<rect x="439.31" y="193.46" width="4.60" height="4.60" fill="#58bde0"/>
<rect x="456.20" y="193.46" width="4.60" height="4.60" fill="#58bde0"/>
<rect x="471.61" y="193.46" width="4.60" height="4.60" fill="#58bde0"/>
<rect x="488.50" y="193.46" width="4.60" height="4.60" fill="#58bde0"/>
<path d="M342.11,291.12L347.31,291.12L344.71,286.70Z" fill="#6ecac2"/>
<path d="M359.00,291.12L364.20,291.12L361.60,286.70Z" fill="#6ecac2"/>
<line x1="377.01" y1="289.27" x2="377.01" y2="295.82" stroke="#6ecac2" stroke-width="0.9" />
<line x1="375.01" y1="289.27" x2="379.01" y2="289.27" stroke="#6ecac2" stroke-width="0.9" />
<line x1="375.01" y1="295.82" x2="379.01" y2="295.82" stroke="#6ecac2" stroke-width="0.9" />
<path d="M374.41,294.49L379.61,294.49L377.01,290.07Z" fill="#6ecac2"/>
<line x1="393.90" y1="271.01" x2="393.90" y2="282.25" stroke="#6ecac2" stroke-width="0.9" />
<line x1="391.90" y1="271.01" x2="395.90" y2="271.01" stroke="#6ecac2" stroke-width="0.9" />
<line x1="391.90" y1="282.25" x2="395.90" y2="282.25" stroke="#6ecac2" stroke-width="0.9" />
<path d="M391.30,278.58L396.50,278.58L393.90,274.16Z" fill="#6ecac2"/>
<line x1="409.31" y1="238.82" x2="409.31" y2="246.30" stroke="#6ecac2" stroke-width="0.9" />
<line x1="407.31" y1="238.82" x2="411.31" y2="238.82" stroke="#6ecac2" stroke-width="0.9" />
<line x1="407.31" y1="246.30" x2="411.31" y2="246.30" stroke="#6ecac2" stroke-width="0.9" />
<path d="M406.71,244.51L411.91,244.51L409.31,240.09Z" fill="#6ecac2"/>
<path d="M423.60,218.11L428.80,218.11L426.20,213.69Z" fill="#6ecac2"/>
<path d="M439.01,208.38L444.21,208.38L441.61,203.96Z" fill="#6ecac2"/>
<path d="M455.90,201.27L461.10,201.27L458.50,196.85Z" fill="#6ecac2"/>
<path d="M471.31,200.33L476.51,200.33L473.91,195.91Z" fill="#6ecac2"/>
<path d="M488.20,199.39L493.40,199.39L490.80,194.97Z" fill="#6ecac2"/>
<line x1="500.50" y1="194.00" x2="512.40" y2="194.00" stroke="#c5246c" stroke-width="1.3" />
<circle cx="506.50" cy="194.00" r="2.75" fill="#c5246c"/>
<text x="518.90" y="197.20" font-size="9.1" text-anchor="start" >BT-474</text>
<line x1="500.50" y1="207.50" x2="512.40" y2="207.50" stroke="#ee9a72" stroke-width="1.3" />
<path d="M503.64,205.35L509.36,205.35L506.50,210.22Z" fill="#ee9a72"/>
<text x="518.90" y="210.70" font-size="9.1" text-anchor="start" >Calu-3</text>
<line x1="500.50" y1="220.30" x2="512.40" y2="220.30" stroke="#e96f74" stroke-width="1.3" />
<path d="M506.50,217.88L508.92,220.30L506.50,222.72L504.08,220.30Z" fill="#e96f74"/>
<text x="518.90" y="223.50" font-size="9.1" text-anchor="start" >SK-BR-3</text>
<line x1="500.50" y1="234.00" x2="512.40" y2="234.00" stroke="#58bde0" stroke-width="1.3" />
<rect x="503.97" y="231.47" width="5.06" height="5.06" fill="#58bde0"/>
<text x="518.90" y="237.20" font-size="9.1" text-anchor="start" >KPL-4</text>
<line x1="500.50" y1="247.10" x2="512.40" y2="247.10" stroke="#6ecac2" stroke-width="1.3" />
<path d="M503.64,249.25L509.36,249.25L506.50,244.38Z" fill="#6ecac2"/>
<text x="518.90" y="250.30" font-size="9.1" text-anchor="start" >MDA-MB-453</text>
<text x="2.90" y="344.60" font-size="14" text-anchor="start" font-weight="bold" >d</text>
<line x1="46.30" y1="368.60" x2="46.30" y2="479.55" stroke="#1a1a1a" stroke-width="1.1" />
<line x1="41.70" y1="368.60" x2="46.30" y2="368.60" stroke="#1a1a1a" stroke-width="1.1" />
<text x="40.50" y="371.91" font-size="9.2" text-anchor="end" >60</text>
<line x1="41.70" y1="384.45" x2="46.30" y2="384.45" stroke="#1a1a1a" stroke-width="1.1" />
<text x="40.50" y="387.76" font-size="9.2" text-anchor="end" >50</text>
<line x1="41.70" y1="400.30" x2="46.30" y2="400.30" stroke="#1a1a1a" stroke-width="1.1" />
<text x="40.50" y="403.61" font-size="9.2" text-anchor="end" >40</text>
<line x1="41.70" y1="416.15" x2="46.30" y2="416.15" stroke="#1a1a1a" stroke-width="1.1" />
<text x="40.50" y="419.46" font-size="9.2" text-anchor="end" >30</text>
<line x1="41.70" y1="432.00" x2="46.30" y2="432.00" stroke="#1a1a1a" stroke-width="1.1" />
<text x="40.50" y="435.31" font-size="9.2" text-anchor="end" >20</text>
<line x1="41.70" y1="447.85" x2="46.30" y2="447.85" stroke="#1a1a1a" stroke-width="1.1" />
<text x="40.50" y="451.16" font-size="9.2" text-anchor="end" >10</text>
<line x1="41.70" y1="463.70" x2="46.30" y2="463.70" stroke="#1a1a1a" stroke-width="1.1" />
<text x="40.50" y="467.01" font-size="9.2" text-anchor="end" >0</text>
<line x1="41.70" y1="479.55" x2="46.30" y2="479.55" stroke="#1a1a1a" stroke-width="1.1" />
<text x="40.50" y="482.86" font-size="9.2" text-anchor="end" >-10</text>
<line x1="46.30" y1="463.70" x2="201.00" y2="463.70" stroke="#1a1a1a" stroke-width="1.1" />
<line x1="67.90" y1="463.70" x2="67.90" y2="468.10" stroke="#1a1a1a" stroke-width="1.1" />
<line x1="90.20" y1="463.70" x2="90.20" y2="468.10" stroke="#1a1a1a" stroke-width="1.1" />
<line x1="112.30" y1="463.70" x2="112.30" y2="468.10" stroke="#1a1a1a" stroke-width="1.1" />
<line x1="134.30" y1="463.70" x2="134.30" y2="468.10" stroke="#1a1a1a" stroke-width="1.1" />
<line x1="156.40" y1="463.70" x2="156.40" y2="468.10" stroke="#1a1a1a" stroke-width="1.1" />
<line x1="178.30" y1="463.70" x2="178.30" y2="468.10" stroke="#1a1a1a" stroke-width="1.1" />
<line x1="200.50" y1="463.70" x2="200.50" y2="468.10" stroke="#1a1a1a" stroke-width="1.1" />
<text x="67.90" y="475.50" font-size="9.3" text-anchor="middle" >0.03</text>
<text x="67.90" y="483.40" font-size="9.3" text-anchor="middle" >0.03</text>
<text x="90.20" y="475.50" font-size="9.3" text-anchor="middle" >0.06</text>
<text x="90.20" y="483.40" font-size="9.3" text-anchor="middle" >0.06</text>
<text x="112.30" y="475.50" font-size="9.3" text-anchor="middle" >0.12</text>
<text x="112.30" y="483.40" font-size="9.3" text-anchor="middle" >0.12</text>
<text x="134.30" y="475.50" font-size="9.3" text-anchor="middle" >0.2</text>
<text x="134.30" y="483.40" font-size="9.3" text-anchor="middle" >0.2</text>
<text x="156.40" y="475.50" font-size="9.3" text-anchor="middle" >0.5</text>
<text x="156.40" y="483.40" font-size="9.3" text-anchor="middle" >0.5</text>
<text x="178.30" y="475.50" font-size="9.3" text-anchor="middle" >1</text>
<text x="178.30" y="483.40" font-size="9.3" text-anchor="middle" >1</text>
<text x="200.50" y="475.50" font-size="9.3" text-anchor="middle" >2</text>
<text x="200.50" y="483.40" font-size="9.3" text-anchor="middle" >2</text>
<text x="204.90" y="475.50" font-size="9.3" text-anchor="start" >Cetux</text>
<text x="204.90" y="483.40" font-size="9.3" text-anchor="start" >DS</text>
<text x="127.90" y="355.70" font-size="9.35" text-anchor="middle" >BT-474</text>
<text x="132.10" y="500.00" font-size="9.35" text-anchor="middle" >Drugs (μg/mL)</text>
<text transform="translate(21.30,413.30) rotate(-90)" font-size="9.45" text-anchor="middle">Inhibition (%)</text>
<path d="M67.90,459.57L200.50,446.73" stroke="#c8722a" stroke-width="1.2" fill="none" />
<path d="M67.90,444.05L70.11,442.87L72.32,441.70L74.53,440.54L76.74,439.39L78.95,438.24L81.16,437.10L83.37,435.97L85.58,434.85L87.79,433.74L90.00,432.63L92.21,431.54L94.42,430.45L96.63,429.36L98.84,428.29L101.05,427.23L103.26,426.17L105.47,425.12L107.68,424.07L109.89,423.04L112.10,422.01L114.31,421.00L116.52,419.99L118.73,418.98L120.94,417.99L123.15,417.00L125.36,416.02L127.57,415.05L129.78,414.09L131.99,413.13L134.20,412.19L136.41,411.25L138.62,410.32L140.83,409.39L143.04,408.48L145.25,407.57L147.46,406.67L149.67,405.78L151.88,404.90L154.09,404.02L156.30,403.15L158.51,402.29L160.72,401.44L162.93,400.60L165.14,399.76L167.35,398.93L169.56,398.11L171.77,397.30L173.98,396.50L176.19,395.70L178.40,394.91L180.61,394.13L182.82,393.36L185.03,392.59L187.24,391.84L189.45,391.09L191.66,390.35L193.87,389.61L196.08,388.89L198.29,388.17L200.50,387.46" stroke="#e0404a" stroke-width="1.2" fill="none" />
<path d="M67.90,445.16L70.11,444.07L72.32,442.99L74.53,441.92L76.74,440.84L78.95,439.77L81.16,438.71L83.37,437.64L85.58,436.58L87.79,435.52L90.00,434.47L92.21,433.41L94.42,432.36L96.63,431.32L98.84,430.28L101.05,429.24L103.26,428.20L105.47,427.16L107.68,426.13L109.89,425.11L112.10,424.08L114.31,423.06L116.52,422.04L118.73,421.03L120.94,420.01L123.15,419.00L125.36,418.00L127.57,416.99L129.78,415.99L131.99,415.00L134.20,414.00L136.41,413.01L138.62,412.02L140.83,411.04L143.04,410.05L145.25,409.07L147.46,408.10L149.67,407.13L151.88,406.16L154.09,405.19L156.30,404.22L158.51,403.26L160.72,402.31L162.93,401.35L165.14,400.40L167.35,399.45L169.56,398.50L171.77,397.56L173.98,396.62L176.19,395.69L178.40,394.75L180.61,393.82L182.82,392.89L185.03,391.97L187.24,391.05L189.45,390.13L191.66,389.22L193.87,388.30L196.08,387.39L198.29,386.49L200.50,385.58" stroke="#5560c4" stroke-width="1.2" fill="none" />
<circle cx="67.90" cy="460.53" r="2.50" fill="#c8722a"/>
<line x1="90.20" y1="448.64" x2="90.20" y2="459.74" stroke="#c8722a" stroke-width="0.9" />
<line x1="88.20" y1="448.64" x2="92.20" y2="448.64" stroke="#c8722a" stroke-width="0.9" />
<line x1="88.20" y1="459.74" x2="92.20" y2="459.74" stroke="#c8722a" stroke-width="0.9" />
<circle cx="90.20" cy="454.19" r="2.50" fill="#c8722a"/>
<circle cx="112.30" cy="457.04" r="2.50" fill="#c8722a"/>
<line x1="134.30" y1="450.39" x2="134.30" y2="463.70" stroke="#c8722a" stroke-width="0.9" />
<line x1="132.30" y1="450.39" x2="136.30" y2="450.39" stroke="#c8722a" stroke-width="0.9" />
<line x1="132.30" y1="463.70" x2="136.30" y2="463.70" stroke="#c8722a" stroke-width="0.9" />
<circle cx="134.30" cy="457.04" r="2.50" fill="#c8722a"/>
<circle cx="156.40" cy="449.59" r="2.50" fill="#c8722a"/>
<line x1="178.30" y1="437.23" x2="178.30" y2="449.59" stroke="#c8722a" stroke-width="0.9" />
<line x1="176.30" y1="437.23" x2="180.30" y2="437.23" stroke="#c8722a" stroke-width="0.9" />
<line x1="176.30" y1="449.59" x2="180.30" y2="449.59" stroke="#c8722a" stroke-width="0.9" />
<circle cx="178.30" cy="443.41" r="2.50" fill="#c8722a"/>
<line x1="200.50" y1="446.90" x2="200.50" y2="453.56" stroke="#c8722a" stroke-width="0.9" />
<line x1="198.50" y1="446.90" x2="202.50" y2="446.90" stroke="#c8722a" stroke-width="0.9" />
<line x1="198.50" y1="453.56" x2="202.50" y2="453.56" stroke="#c8722a" stroke-width="0.9" />
<circle cx="200.50" cy="450.23" r="2.50" fill="#c8722a"/>
<line x1="67.90" y1="441.51" x2="67.90" y2="447.85" stroke="#e0404a" stroke-width="0.9" />
<line x1="65.90" y1="441.51" x2="69.90" y2="441.51" stroke="#e0404a" stroke-width="0.9" />
<line x1="65.90" y1="447.85" x2="69.90" y2="447.85" stroke="#e0404a" stroke-width="0.9" />
<path d="M65.30,446.63L70.50,446.63L67.90,442.21Z" fill="#e0404a"/>
<line x1="90.20" y1="428.04" x2="90.20" y2="447.06" stroke="#e0404a" stroke-width="0.9" />
<line x1="88.20" y1="428.04" x2="92.20" y2="428.04" stroke="#e0404a" stroke-width="0.9" />
<line x1="88.20" y1="447.06" x2="92.20" y2="447.06" stroke="#e0404a" stroke-width="0.9" />
<path d="M87.60,439.50L92.80,439.50L90.20,435.08Z" fill="#e0404a"/>
<line x1="112.30" y1="417.74" x2="112.30" y2="427.25" stroke="#e0404a" stroke-width="0.9" />
<line x1="110.30" y1="417.74" x2="114.30" y2="417.74" stroke="#e0404a" stroke-width="0.9" />
<line x1="110.30" y1="427.25" x2="114.30" y2="427.25" stroke="#e0404a" stroke-width="0.9" />
<path d="M109.70,424.44L114.90,424.44L112.30,420.02Z" fill="#e0404a"/>
<line x1="134.30" y1="399.67" x2="134.30" y2="415.52" stroke="#e0404a" stroke-width="0.9" />
<line x1="132.30" y1="399.67" x2="136.30" y2="399.67" stroke="#e0404a" stroke-width="0.9" />
<line x1="132.30" y1="415.52" x2="136.30" y2="415.52" stroke="#e0404a" stroke-width="0.9" />
<path d="M131.70,409.54L136.90,409.54L134.30,405.12Z" fill="#e0404a"/>
<line x1="156.40" y1="397.92" x2="156.40" y2="407.43" stroke="#e0404a" stroke-width="0.9" />
<line x1="154.40" y1="397.92" x2="158.40" y2="397.92" stroke="#e0404a" stroke-width="0.9" />
<line x1="154.40" y1="407.43" x2="158.40" y2="407.43" stroke="#e0404a" stroke-width="0.9" />
<path d="M153.80,404.63L159.00,404.63L156.40,400.21Z" fill="#e0404a"/>
<line x1="178.30" y1="390.95" x2="178.30" y2="395.70" stroke="#e0404a" stroke-width="0.9" />
<line x1="176.30" y1="390.95" x2="180.30" y2="390.95" stroke="#e0404a" stroke-width="0.9" />
<line x1="176.30" y1="395.70" x2="180.30" y2="395.70" stroke="#e0404a" stroke-width="0.9" />
<path d="M175.70,395.28L180.90,395.28L178.30,390.86Z" fill="#e0404a"/>
<line x1="200.50" y1="382.55" x2="200.50" y2="393.64" stroke="#e0404a" stroke-width="0.9" />
<line x1="198.50" y1="382.55" x2="202.50" y2="382.55" stroke="#e0404a" stroke-width="0.9" />
<line x1="198.50" y1="393.64" x2="202.50" y2="393.64" stroke="#e0404a" stroke-width="0.9" />
<path d="M197.90,390.05L203.10,390.05L200.50,385.63Z" fill="#e0404a"/>
<line x1="67.90" y1="438.97" x2="67.90" y2="448.48" stroke="#5560c4" stroke-width="0.9" />
<line x1="65.90" y1="438.97" x2="69.90" y2="438.97" stroke="#5560c4" stroke-width="0.9" />
<line x1="65.90" y1="448.48" x2="69.90" y2="448.48" stroke="#5560c4" stroke-width="0.9" />
<circle cx="67.90" cy="443.73" r="2.50" fill="#5560c4"/>
<line x1="90.20" y1="436.44" x2="90.20" y2="445.95" stroke="#5560c4" stroke-width="0.9" />
<line x1="88.20" y1="436.44" x2="92.20" y2="436.44" stroke="#5560c4" stroke-width="0.9" />
<line x1="88.20" y1="445.95" x2="92.20" y2="445.95" stroke="#5560c4" stroke-width="0.9" />
<circle cx="90.20" cy="441.19" r="2.50" fill="#5560c4"/>
<line x1="112.30" y1="421.54" x2="112.30" y2="427.88" stroke="#5560c4" stroke-width="0.9" />
<line x1="110.30" y1="421.54" x2="114.30" y2="421.54" stroke="#5560c4" stroke-width="0.9" />
<line x1="110.30" y1="427.88" x2="114.30" y2="427.88" stroke="#5560c4" stroke-width="0.9" />
<circle cx="112.30" cy="424.71" r="2.50" fill="#5560c4"/>
<line x1="134.30" y1="410.13" x2="134.30" y2="414.88" stroke="#5560c4" stroke-width="0.9" />
<line x1="132.30" y1="410.13" x2="136.30" y2="410.13" stroke="#5560c4" stroke-width="0.9" />
<line x1="132.30" y1="414.88" x2="136.30" y2="414.88" stroke="#5560c4" stroke-width="0.9" />
<circle cx="134.30" cy="412.50" r="2.50" fill="#5560c4"/>
<line x1="156.40" y1="397.45" x2="156.40" y2="413.30" stroke="#5560c4" stroke-width="0.9" />
<line x1="154.40" y1="397.45" x2="158.40" y2="397.45" stroke="#5560c4" stroke-width="0.9" />
<line x1="154.40" y1="413.30" x2="158.40" y2="413.30" stroke="#5560c4" stroke-width="0.9" />
<circle cx="156.40" cy="405.37" r="2.50" fill="#5560c4"/>
<line x1="178.30" y1="388.89" x2="178.30" y2="393.64" stroke="#5560c4" stroke-width="0.9" />
<line x1="176.30" y1="388.89" x2="180.30" y2="388.89" stroke="#5560c4" stroke-width="0.9" />
<line x1="176.30" y1="393.64" x2="180.30" y2="393.64" stroke="#5560c4" stroke-width="0.9" />
<circle cx="178.30" cy="391.27" r="2.50" fill="#5560c4"/>
<line x1="200.50" y1="380.96" x2="200.50" y2="390.47" stroke="#5560c4" stroke-width="0.9" />
<line x1="198.50" y1="380.96" x2="202.50" y2="380.96" stroke="#5560c4" stroke-width="0.9" />
<line x1="198.50" y1="390.47" x2="202.50" y2="390.47" stroke="#5560c4" stroke-width="0.9" />
<circle cx="200.50" cy="385.72" r="2.50" fill="#5560c4"/>
<line x1="54.30" y1="369.20" x2="66.30" y2="369.20" stroke="#5560c4" stroke-width="1.2" />
<circle cx="60.30" cy="369.20" r="2.62" fill="#5560c4"/>
<text x="73.60" y="372.40" font-size="9.2" text-anchor="start" >DS-8201</text>
<line x1="54.30" y1="384.60" x2="66.30" y2="384.60" stroke="#c8722a" stroke-width="1.2" />
<circle cx="60.30" cy="384.60" r="2.62" fill="#c8722a"/>
<text x="73.60" y="387.80" font-size="9.2" text-anchor="start" >Cetuximab</text>
<line x1="54.30" y1="399.30" x2="66.30" y2="399.30" stroke="#e0404a" stroke-width="1.2" />
<path d="M57.57,401.35L63.03,401.35L60.30,396.71Z" fill="#e0404a"/>
<text x="73.60" y="402.50" font-size="9.2" text-anchor="start" >Comb</text>
<text x="135.70" y="384.90" font-size="9.0" text-anchor="start" >CI &gt; 1</text>
<text x="220.10" y="343.70" font-size="14" text-anchor="start" font-weight="bold" >e</text>
<line x1="269.40" y1="368.80" x2="269.40" y2="479.75" stroke="#1a1a1a" stroke-width="1.1" />
<line x1="264.80" y1="368.80" x2="269.40" y2="368.80" stroke="#1a1a1a" stroke-width="1.1" />
<text x="263.60" y="372.11" font-size="9.2" text-anchor="end" >60</text>
<line x1="264.80" y1="384.65" x2="269.40" y2="384.65" stroke="#1a1a1a" stroke-width="1.1" />
<text x="263.60" y="387.96" font-size="9.2" text-anchor="end" >50</text>
<line x1="264.80" y1="400.50" x2="269.40" y2="400.50" stroke="#1a1a1a" stroke-width="1.1" />
<text x="263.60" y="403.81" font-size="9.2" text-anchor="end" >40</text>
<line x1="264.80" y1="416.35" x2="269.40" y2="416.35" stroke="#1a1a1a" stroke-width="1.1" />
<text x="263.60" y="419.66" font-size="9.2" text-anchor="end" >30</text>
<line x1="264.80" y1="432.20" x2="269.40" y2="432.20" stroke="#1a1a1a" stroke-width="1.1" />
<text x="263.60" y="435.51" font-size="9.2" text-anchor="end" >20</text>
<line x1="264.80" y1="448.05" x2="269.40" y2="448.05" stroke="#1a1a1a" stroke-width="1.1" />
<text x="263.60" y="451.36" font-size="9.2" text-anchor="end" >10</text>
<line x1="264.80" y1="463.90" x2="269.40" y2="463.90" stroke="#1a1a1a" stroke-width="1.1" />
<text x="263.60" y="467.21" font-size="9.2" text-anchor="end" >0</text>
<line x1="264.80" y1="479.75" x2="269.40" y2="479.75" stroke="#1a1a1a" stroke-width="1.1" />
<text x="263.60" y="483.06" font-size="9.2" text-anchor="end" >-10</text>
<line x1="269.40" y1="463.90" x2="426.40" y2="463.90" stroke="#1a1a1a" stroke-width="1.1" />
<line x1="289.00" y1="463.90" x2="289.00" y2="468.30" stroke="#1a1a1a" stroke-width="1.1" />
<line x1="308.43" y1="463.90" x2="308.43" y2="468.30" stroke="#1a1a1a" stroke-width="1.1" />
<line x1="327.86" y1="463.90" x2="327.86" y2="468.30" stroke="#1a1a1a" stroke-width="1.1" />
<line x1="347.29" y1="463.90" x2="347.29" y2="468.30" stroke="#1a1a1a" stroke-width="1.1" />
<line x1="366.72" y1="463.90" x2="366.72" y2="468.30" stroke="#1a1a1a" stroke-width="1.1" />
<line x1="386.15" y1="463.90" x2="386.15" y2="468.30" stroke="#1a1a1a" stroke-width="1.1" />
<line x1="405.58" y1="463.90" x2="405.58" y2="468.30" stroke="#1a1a1a" stroke-width="1.1" />
<line x1="425.01" y1="463.90" x2="425.01" y2="468.30" stroke="#1a1a1a" stroke-width="1.1" />
<text x="285.50" y="476.30" font-size="9.2" text-anchor="middle" >0.01</text>
<text x="285.50" y="484.80" font-size="9.2" text-anchor="middle" >0.01</text>
<text x="306.70" y="476.30" font-size="9.2" text-anchor="middle" >0.03</text>
<text x="306.70" y="484.80" font-size="9.2" text-anchor="middle" >0.03</text>
<text x="327.50" y="476.30" font-size="9.2" text-anchor="middle" >0.06</text>
<text x="327.50" y="484.80" font-size="9.2" text-anchor="middle" >0.06</text>
<text x="348.10" y="476.30" font-size="9.2" text-anchor="middle" >0.12</text>
<text x="348.10" y="484.80" font-size="9.2" text-anchor="middle" >0.12</text>
<text x="368.70" y="476.30" font-size="9.2" text-anchor="middle" >0.25</text>
<text x="368.70" y="484.80" font-size="9.2" text-anchor="middle" >0.25</text>
<text x="386.80" y="476.30" font-size="9.2" text-anchor="middle" >0.5</text>
<text x="386.80" y="484.80" font-size="9.2" text-anchor="middle" >0.5</text>
<text x="405.90" y="476.30" font-size="9.2" text-anchor="middle" >1</text>
<text x="405.90" y="484.80" font-size="9.2" text-anchor="middle" >1</text>
<text x="424.30" y="476.30" font-size="9.2" text-anchor="middle" >2</text>
<text x="424.30" y="484.80" font-size="9.2" text-anchor="middle" >2</text>
<text x="430.00" y="476.30" font-size="9.2" text-anchor="start" >SIBP</text>
<text x="430.00" y="484.80" font-size="9.2" text-anchor="start" >DS</text>
<text x="351.90" y="355.50" font-size="9.35" text-anchor="middle" >BT-474</text>
<text x="354.80" y="500.00" font-size="9.35" text-anchor="middle" >Drugs (μg/mL)</text>
<text transform="translate(241.20,412.70) rotate(-90)" font-size="9.45" text-anchor="middle">Inhibition (%)</text>
<path d="M289.00,447.81L289.97,447.53L290.94,447.25L291.91,446.97L292.89,446.69L293.86,446.42L294.83,446.15L295.80,445.87L296.77,445.60L297.74,445.34L298.72,445.07L299.69,444.81L300.66,444.54L301.63,444.28L302.60,444.02L303.57,443.77L304.54,443.51L305.52,443.26L306.49,443.00L307.46,442.75L308.43,442.50L309.40,442.26L310.37,442.01L311.34,441.77L312.32,441.52L313.29,441.28L314.26,441.04L315.23,440.81L316.20,440.57L317.17,440.34L318.14,440.10L319.12,439.87L320.09,439.64L321.06,439.41L322.03,439.19L323.00,438.96L323.97,438.74L324.95,438.51L325.92,438.29L326.89,438.07L327.86,437.85L328.83,437.64L329.80,437.42L330.77,437.21L331.75,437.00L332.72,436.78L333.69,436.57L334.66,436.37L335.63,436.16L336.60,435.95L337.58,435.75L338.55,435.55L339.52,435.35L340.49,435.14L341.46,434.95L342.43,434.75L343.40,434.55L344.38,434.36L345.35,434.16L346.32,433.97L347.29,433.78L348.26,433.59L349.23,433.40L350.20,433.21L351.18,433.03L352.15,432.84L353.12,432.66L354.09,432.48L355.06,432.29L356.03,432.11L357.00,431.94L357.98,431.76L358.95,431.58L359.92,431.41L360.89,431.23L361.86,431.06L362.83,430.89L363.81,430.72L364.78,430.55L365.75,430.38L366.72,430.21L367.69,430.04L368.66,429.88L369.63,429.71L370.61,429.55L371.58,429.39L372.55,429.23L373.52,429.07L374.49,428.91L375.46,428.75L376.44,428.59L377.41,428.44L378.38,428.28L379.35,428.13L380.32,427.98L381.29,427.83L382.26,427.67L383.24,427.52L384.21,427.38L385.18,427.23L386.15,427.08L387.12,426.94L388.09,426.79L389.06,426.65L390.04,426.50L391.01,426.36L391.98,426.22L392.95,426.08L393.92,425.94L394.89,425.80L395.87,425.67L396.84,425.53L397.81,425.39L398.78,425.26L399.75,425.13L400.72,424.99L401.69,424.86L402.67,424.73L403.64,424.60L404.61,424.47L405.58,424.34L406.55,424.21L407.52,424.09L408.49,423.96L409.47,423.84L410.44,423.71L411.41,423.59L412.38,423.47L413.35,423.34L414.32,423.22L415.30,423.10L416.27,422.98L417.24,422.86L418.21,422.75L419.18,422.63L420.15,422.51L421.12,422.40L422.10,422.28L423.07,422.17L424.04,422.05L425.01,421.94" stroke="#62a05c" stroke-width="1.2" fill="none" />
<path d="M289.00,441.52L289.97,441.38L290.94,441.24L291.91,441.10L292.89,440.95L293.86,440.80L294.83,440.64L295.80,440.47L296.77,440.30L297.74,440.12L298.72,439.93L299.69,439.74L300.66,439.54L301.63,439.33L302.60,439.11L303.57,438.89L304.54,438.66L305.52,438.42L306.49,438.17L307.46,437.92L308.43,437.65L309.40,437.38L310.37,437.10L311.34,436.81L312.32,436.51L313.29,436.20L314.26,435.88L315.23,435.56L316.20,435.22L317.17,434.87L318.14,434.52L319.12,434.15L320.09,433.78L321.06,433.39L322.03,432.99L323.00,432.59L323.97,432.17L324.95,431.75L325.92,431.32L326.89,430.87L327.86,430.42L328.83,429.96L329.80,429.49L330.77,429.01L331.75,428.52L332.72,428.02L333.69,427.52L334.66,427.01L335.63,426.49L336.60,425.96L337.58,425.43L338.55,424.89L339.52,424.35L340.49,423.80L341.46,423.25L342.43,422.69L343.40,422.13L344.38,421.57L345.35,421.00L346.32,420.43L347.29,419.86L348.26,419.29L349.23,418.71L350.20,418.14L351.18,417.57L352.15,417.00L353.12,416.43L354.09,415.87L355.06,415.30L356.03,414.74L357.00,414.19L357.98,413.64L358.95,413.09L359.92,412.55L360.89,412.02L361.86,411.49L362.83,410.96L363.81,410.45L364.78,409.94L365.75,409.44L366.72,408.95L367.69,408.47L368.66,407.99L369.63,407.53L370.61,407.07L371.58,406.62L372.55,406.18L373.52,405.75L374.49,405.34L375.46,404.93L376.44,404.53L377.41,404.14L378.38,403.76L379.35,403.38L380.32,403.02L381.29,402.67L382.26,402.33L383.24,402.00L384.21,401.68L385.18,401.36L386.15,401.06L387.12,400.77L388.09,400.48L389.06,400.20L390.04,399.94L391.01,399.68L391.98,399.43L392.95,399.18L393.92,398.95L394.89,398.72L395.87,398.50L396.84,398.29L397.81,398.09L398.78,397.89L399.75,397.70L400.72,397.52L401.69,397.34L402.67,397.17L403.64,397.01L404.61,396.85L405.58,396.70L406.55,396.55L407.52,396.41L408.49,396.28L409.47,396.15L410.44,396.02L411.41,395.90L412.38,395.79L413.35,395.68L414.32,395.57L415.30,395.47L416.27,395.37L417.24,395.27L418.21,395.18L419.18,395.10L420.15,395.01L421.12,394.93L422.10,394.85L423.07,394.78L424.04,394.71L425.01,394.64" stroke="#5560c4" stroke-width="1.2" fill="none" />
<path d="M289.00,424.48L289.97,424.31L290.94,424.13L291.91,423.95L292.89,423.76L293.86,423.57L294.83,423.37L295.80,423.17L296.77,422.96L297.74,422.75L298.72,422.53L299.69,422.31L300.66,422.08L301.63,421.85L302.60,421.61L303.57,421.36L304.54,421.11L305.52,420.85L306.49,420.59L307.46,420.32L308.43,420.04L309.40,419.76L310.37,419.47L311.34,419.18L312.32,418.88L313.29,418.57L314.26,418.25L315.23,417.93L316.20,417.61L317.17,417.28L318.14,416.94L319.12,416.59L320.09,416.24L321.06,415.88L322.03,415.52L323.00,415.15L323.97,414.77L324.95,414.38L325.92,414.00L326.89,413.60L327.86,413.20L328.83,412.79L329.80,412.38L330.77,411.96L331.75,411.53L332.72,411.10L333.69,410.66L334.66,410.22L335.63,409.77L336.60,409.32L337.58,408.87L338.55,408.40L339.52,407.94L340.49,407.47L341.46,406.99L342.43,406.52L343.40,406.03L344.38,405.55L345.35,405.06L346.32,404.57L347.29,404.07L348.26,403.58L349.23,403.08L350.20,402.58L351.18,402.07L352.15,401.57L353.12,401.06L354.09,400.56L355.06,400.05L356.03,399.54L357.00,399.03L357.98,398.53L358.95,398.02L359.92,397.51L360.89,397.01L361.86,396.50L362.83,396.00L363.81,395.50L364.78,395.00L365.75,394.50L366.72,394.01L367.69,393.51L368.66,393.02L369.63,392.54L370.61,392.06L371.58,391.58L372.55,391.10L373.52,390.63L374.49,390.17L375.46,389.71L376.44,389.25L377.41,388.80L378.38,388.35L379.35,387.91L380.32,387.47L381.29,387.04L382.26,386.61L383.24,386.19L384.21,385.78L385.18,385.37L386.15,384.97L387.12,384.57L388.09,384.18L389.06,383.80L390.04,383.42L391.01,383.05L391.98,382.68L392.95,382.32L393.92,381.97L394.89,381.63L395.87,381.29L396.84,380.95L397.81,380.63L398.78,380.31L399.75,379.99L400.72,379.68L401.69,379.38L402.67,379.09L403.64,378.80L404.61,378.52L405.58,378.24L406.55,377.97L407.52,377.71L408.49,377.45L409.47,377.20L410.44,376.95L411.41,376.71L412.38,376.47L413.35,376.24L414.32,376.02L415.30,375.80L416.27,375.59L417.24,375.38L418.21,375.18L419.18,374.98L420.15,374.79L421.12,374.60L422.10,374.42L423.07,374.24L424.04,374.07L425.01,373.90" stroke="#dc3c8c" stroke-width="1.2" fill="none" />
<rect x="286.70" y="446.07" width="4.60" height="4.60" fill="#62a05c"/>
<line x1="308.43" y1="436.16" x2="308.43" y2="445.67" stroke="#62a05c" stroke-width="0.9" />
<line x1="306.43" y1="436.16" x2="310.43" y2="436.16" stroke="#62a05c" stroke-width="0.9" />
<line x1="306.43" y1="445.67" x2="310.43" y2="445.67" stroke="#62a05c" stroke-width="0.9" />
<rect x="306.13" y="438.62" width="4.60" height="4.60" fill="#62a05c"/>
<line x1="327.86" y1="437.43" x2="327.86" y2="445.36" stroke="#62a05c" stroke-width="0.9" />
<line x1="325.86" y1="437.43" x2="329.86" y2="437.43" stroke="#62a05c" stroke-width="0.9" />
<line x1="325.86" y1="445.36" x2="329.86" y2="445.36" stroke="#62a05c" stroke-width="0.9" />
<rect x="325.56" y="436.72" width="4.60" height="4.60" fill="#62a05c"/>
<line x1="347.29" y1="432.04" x2="347.29" y2="436.48" stroke="#62a05c" stroke-width="0.9" />
<line x1="345.29" y1="432.04" x2="349.29" y2="432.04" stroke="#62a05c" stroke-width="0.9" />
<line x1="345.29" y1="436.48" x2="349.29" y2="436.48" stroke="#62a05c" stroke-width="0.9" />
<rect x="344.99" y="431.33" width="4.60" height="4.60" fill="#62a05c"/>
<rect x="364.42" y="428.95" width="4.60" height="4.60" fill="#62a05c"/>
<rect x="383.85" y="423.08" width="4.60" height="4.60" fill="#62a05c"/>
<rect x="403.28" y="422.77" width="4.60" height="4.60" fill="#62a05c"/>
<rect x="422.71" y="419.60" width="4.60" height="4.60" fill="#62a05c"/>
<line x1="289.00" y1="435.69" x2="289.00" y2="446.78" stroke="#5560c4" stroke-width="0.9" />
<line x1="287.00" y1="435.69" x2="291.00" y2="435.69" stroke="#5560c4" stroke-width="0.9" />
<line x1="287.00" y1="446.78" x2="291.00" y2="446.78" stroke="#5560c4" stroke-width="0.9" />
<circle cx="289.00" cy="441.23" r="2.50" fill="#5560c4"/>
<line x1="308.43" y1="429.51" x2="308.43" y2="446.94" stroke="#5560c4" stroke-width="0.9" />
<line x1="306.43" y1="429.51" x2="310.43" y2="429.51" stroke="#5560c4" stroke-width="0.9" />
<line x1="306.43" y1="446.94" x2="310.43" y2="446.94" stroke="#5560c4" stroke-width="0.9" />
<circle cx="308.43" cy="438.22" r="2.50" fill="#5560c4"/>
<line x1="327.86" y1="424.59" x2="327.86" y2="434.10" stroke="#5560c4" stroke-width="0.9" />
<line x1="325.86" y1="424.59" x2="329.86" y2="424.59" stroke="#5560c4" stroke-width="0.9" />
<line x1="325.86" y1="434.10" x2="329.86" y2="434.10" stroke="#5560c4" stroke-width="0.9" />
<circle cx="327.86" cy="429.35" r="2.50" fill="#5560c4"/>
<line x1="347.29" y1="416.98" x2="347.29" y2="428.08" stroke="#5560c4" stroke-width="0.9" />
<line x1="345.29" y1="416.98" x2="349.29" y2="416.98" stroke="#5560c4" stroke-width="0.9" />
<line x1="345.29" y1="428.08" x2="349.29" y2="428.08" stroke="#5560c4" stroke-width="0.9" />
<circle cx="347.29" cy="422.53" r="2.50" fill="#5560c4"/>
<line x1="366.72" y1="398.91" x2="366.72" y2="410.01" stroke="#5560c4" stroke-width="0.9" />
<line x1="364.72" y1="398.91" x2="368.72" y2="398.91" stroke="#5560c4" stroke-width="0.9" />
<line x1="364.72" y1="410.01" x2="368.72" y2="410.01" stroke="#5560c4" stroke-width="0.9" />
<circle cx="366.72" cy="404.46" r="2.50" fill="#5560c4"/>
<line x1="386.15" y1="399.07" x2="386.15" y2="410.80" stroke="#5560c4" stroke-width="0.9" />
<line x1="384.15" y1="399.07" x2="388.15" y2="399.07" stroke="#5560c4" stroke-width="0.9" />
<line x1="384.15" y1="410.80" x2="388.15" y2="410.80" stroke="#5560c4" stroke-width="0.9" />
<circle cx="386.15" cy="404.94" r="2.50" fill="#5560c4"/>
<line x1="405.58" y1="393.05" x2="405.58" y2="399.39" stroke="#5560c4" stroke-width="0.9" />
<line x1="403.58" y1="393.05" x2="407.58" y2="393.05" stroke="#5560c4" stroke-width="0.9" />
<line x1="403.58" y1="399.39" x2="407.58" y2="399.39" stroke="#5560c4" stroke-width="0.9" />
<circle cx="405.58" cy="396.22" r="2.50" fill="#5560c4"/>
<line x1="425.01" y1="385.13" x2="425.01" y2="402.56" stroke="#5560c4" stroke-width="0.9" />
<line x1="423.01" y1="385.13" x2="427.01" y2="385.13" stroke="#5560c4" stroke-width="0.9" />
<line x1="423.01" y1="402.56" x2="427.01" y2="402.56" stroke="#5560c4" stroke-width="0.9" />
<circle cx="425.01" cy="393.84" r="2.50" fill="#5560c4"/>
<path d="M286.40,427.33L291.60,427.33L289.00,422.91Z" fill="#dc3c8c"/>
<path d="M305.83,420.84L311.03,420.84L308.43,416.42Z" fill="#dc3c8c"/>
<line x1="327.86" y1="407.47" x2="327.86" y2="417.62" stroke="#dc3c8c" stroke-width="0.9" />
<line x1="325.86" y1="407.47" x2="329.86" y2="407.47" stroke="#dc3c8c" stroke-width="0.9" />
<line x1="325.86" y1="417.62" x2="329.86" y2="417.62" stroke="#dc3c8c" stroke-width="0.9" />
<path d="M325.26,414.50L330.46,414.50L327.86,410.08Z" fill="#dc3c8c"/>
<path d="M344.69,407.52L349.89,407.52L347.29,403.10Z" fill="#dc3c8c"/>
<line x1="366.72" y1="384.17" x2="366.72" y2="402.24" stroke="#dc3c8c" stroke-width="0.9" />
<line x1="364.72" y1="384.17" x2="368.72" y2="384.17" stroke="#dc3c8c" stroke-width="0.9" />
<line x1="364.72" y1="402.24" x2="368.72" y2="402.24" stroke="#dc3c8c" stroke-width="0.9" />
<path d="M364.12,395.16L369.32,395.16L366.72,390.74Z" fill="#dc3c8c"/>
<line x1="386.15" y1="383.06" x2="386.15" y2="389.40" stroke="#dc3c8c" stroke-width="0.9" />
<line x1="384.15" y1="383.06" x2="388.15" y2="383.06" stroke="#dc3c8c" stroke-width="0.9" />
<line x1="384.15" y1="389.40" x2="388.15" y2="389.40" stroke="#dc3c8c" stroke-width="0.9" />
<path d="M383.55,388.19L388.75,388.19L386.15,383.76Z" fill="#dc3c8c"/>
<path d="M402.98,377.88L408.18,377.88L405.58,373.46Z" fill="#dc3c8c"/>
<path d="M422.41,377.09L427.61,377.09L425.01,372.67Z" fill="#dc3c8c"/>
<line x1="276.90" y1="368.80" x2="289.20" y2="368.80" stroke="#5560c4" stroke-width="1.2" />
<circle cx="283.20" cy="368.80" r="2.62" fill="#5560c4"/>
<text x="296.20" y="372.00" font-size="9.2" text-anchor="start" >DS-8201</text>
<line x1="276.90" y1="383.50" x2="289.20" y2="383.50" stroke="#62a05c" stroke-width="1.2" />
<rect x="280.78" y="381.08" width="4.83" height="4.83" fill="#62a05c"/>
<text x="296.20" y="386.70" font-size="9.2" text-anchor="start" >SIBP-03</text>
<line x1="276.90" y1="398.60" x2="289.20" y2="398.60" stroke="#dc3c8c" stroke-width="1.2" />
<path d="M280.47,400.65L285.93,400.65L283.20,396.01Z" fill="#dc3c8c"/>
<text x="296.20" y="401.80" font-size="9.2" text-anchor="start" >Comb</text>
<text x="348.80" y="372.00" font-size="9.35" text-anchor="start" >CI = 0.21 ± 0.12</text>
<text x="439.60" y="345.30" font-size="14" text-anchor="start" font-weight="bold" >f</text>
<line x1="497.40" y1="371.70" x2="497.40" y2="482.10" stroke="#1a1a1a" stroke-width="1.1" />
<line x1="492.80" y1="371.70" x2="497.40" y2="371.70" stroke="#1a1a1a" stroke-width="1.1" />
<text x="491.60" y="374.94" font-size="9.0" text-anchor="end" >100</text>
<line x1="492.80" y1="390.10" x2="497.40" y2="390.10" stroke="#1a1a1a" stroke-width="1.1" />
<text x="491.60" y="393.34" font-size="9.0" text-anchor="end" >80</text>
<line x1="492.80" y1="408.50" x2="497.40" y2="408.50" stroke="#1a1a1a" stroke-width="1.1" />
<text x="491.60" y="411.74" font-size="9.0" text-anchor="end" >60</text>
<line x1="492.80" y1="426.90" x2="497.40" y2="426.90" stroke="#1a1a1a" stroke-width="1.1" />
<text x="491.60" y="430.14" font-size="9.0" text-anchor="end" >40</text>
<line x1="492.80" y1="445.30" x2="497.40" y2="445.30" stroke="#1a1a1a" stroke-width="1.1" />
<text x="491.60" y="448.54" font-size="9.0" text-anchor="end" >20</text>
<line x1="492.80" y1="463.70" x2="497.40" y2="463.70" stroke="#1a1a1a" stroke-width="1.1" />
<text x="491.60" y="466.94" font-size="9.0" text-anchor="end" >0</text>
<line x1="492.80" y1="482.10" x2="497.40" y2="482.10" stroke="#1a1a1a" stroke-width="1.1" />
<text x="491.60" y="485.34" font-size="9.0" text-anchor="end" >-20</text>
<line x1="497.40" y1="463.70" x2="652.00" y2="463.70" stroke="#1a1a1a" stroke-width="1.1" />
<line x1="514.10" y1="463.70" x2="514.10" y2="468.10" stroke="#1a1a1a" stroke-width="1.1" />
<line x1="531.30" y1="463.70" x2="531.30" y2="468.10" stroke="#1a1a1a" stroke-width="1.1" />
<line x1="548.50" y1="463.70" x2="548.50" y2="468.10" stroke="#1a1a1a" stroke-width="1.1" />
<line x1="565.70" y1="463.70" x2="565.70" y2="468.10" stroke="#1a1a1a" stroke-width="1.1" />
<line x1="582.90" y1="463.70" x2="582.90" y2="468.10" stroke="#1a1a1a" stroke-width="1.1" />
<line x1="600.10" y1="463.70" x2="600.10" y2="468.10" stroke="#1a1a1a" stroke-width="1.1" />
<line x1="617.30" y1="463.70" x2="617.30" y2="468.10" stroke="#1a1a1a" stroke-width="1.1" />
<line x1="634.50" y1="463.70" x2="634.50" y2="468.10" stroke="#1a1a1a" stroke-width="1.1" />
<line x1="651.70" y1="463.70" x2="651.70" y2="468.10" stroke="#1a1a1a" stroke-width="1.1" />
<text x="514.30" y="476.60" font-size="9.0" text-anchor="middle" >0.007</text>
<text x="515.40" y="485.00" font-size="9.0" text-anchor="middle" >0.0003</text>
<text x="548.50" y="476.60" font-size="9.0" text-anchor="middle" >0.03</text>
<text x="549.50" y="485.00" font-size="9.0" text-anchor="middle" >0.001</text>
<text x="585.60" y="476.60" font-size="9.0" text-anchor="middle" >0.12</text>
<text x="585.40" y="485.00" font-size="9.0" text-anchor="middle" >0.006</text>
<text x="616.70" y="476.60" font-size="9.0" text-anchor="middle" >0.5</text>
<text x="616.10" y="485.00" font-size="9.0" text-anchor="middle" >0.025</text>
<text x="651.30" y="476.60" font-size="9.0" text-anchor="middle" >2</text>
<text x="647.00" y="485.00" font-size="9.0" text-anchor="middle" >0.1</text>
<text x="657.30" y="476.60" font-size="9.0" text-anchor="start" >SIBP</text>
<text x="656.40" y="485.00" font-size="9.0" text-anchor="start" >T-DM1</text>
<text x="573.50" y="355.50" font-size="9.35" text-anchor="middle" >BT-474</text>
<text x="573.70" y="500.00" font-size="9.35" text-anchor="middle" >Drugs (μg/mL)</text>
<text transform="translate(467.20,413.20) rotate(-90)" font-size="9.45" text-anchor="middle">Inhibition (%)</text>
<path d="M514.10,453.69L514.96,453.52L515.82,453.35L516.68,453.18L517.54,453.02L518.40,452.85L519.26,452.69L520.12,452.53L520.98,452.37L521.84,452.21L522.70,452.05L523.56,451.90L524.42,451.74L525.28,451.59L526.14,451.44L527.00,451.29L527.86,451.14L528.72,450.99L529.58,450.84L530.44,450.70L531.30,450.55L532.16,450.41L533.02,450.27L533.88,450.13L534.74,449.99L535.60,449.85L536.46,449.72L537.32,449.58L538.18,449.45L539.04,449.31L539.90,449.18L540.76,449.05L541.62,448.92L542.48,448.79L543.34,448.67L544.20,448.54L545.06,448.42L545.92,448.29L546.78,448.17L547.64,448.05L548.50,447.93L549.36,447.81L550.22,447.69L551.08,447.57L551.94,447.45L552.80,447.34L553.66,447.23L554.52,447.11L555.38,447.00L556.24,446.89L557.10,446.78L557.96,446.67L558.82,446.56L559.68,446.45L560.54,446.35L561.40,446.24L562.26,446.14L563.12,446.03L563.98,445.93L564.84,445.83L565.70,445.73L566.56,445.63L567.42,445.53L568.28,445.43L569.14,445.33L570.00,445.23L570.86,445.14L571.72,445.04L572.58,444.95L573.44,444.86L574.30,444.76L575.16,444.67L576.02,444.58L576.88,444.49L577.74,444.40L578.60,444.31L579.46,444.23L580.32,444.14L581.18,444.05L582.04,443.97L582.90,443.88L583.76,443.80L584.62,443.72L585.48,443.64L586.34,443.55L587.20,443.47L588.06,443.39L588.92,443.31L589.78,443.23L590.64,443.16L591.50,443.08L592.36,443.00L593.22,442.93L594.08,442.85L594.94,442.78L595.80,442.70L596.66,442.63L597.52,442.56L598.38,442.48L599.24,442.41L600.10,442.34L600.96,442.27L601.82,442.20L602.68,442.13L603.54,442.06L604.40,442.00L605.26,441.93L606.12,441.86L606.98,441.80L607.84,441.73L608.70,441.67L609.56,441.60L610.42,441.54L611.28,441.48L612.14,441.41L613.00,441.35L613.86,441.29L614.72,441.23L615.58,441.17L616.44,441.11L617.30,441.05L618.16,440.99L619.02,440.93L619.88,440.87L620.74,440.82L621.60,440.76L622.46,440.70L623.32,440.65L624.18,440.59L625.04,440.54L625.90,440.48L626.76,440.43L627.62,440.38L628.48,440.32L629.34,440.27L630.20,440.22L631.06,440.17L631.92,440.12L632.78,440.07L633.64,440.02L634.50,439.97L635.36,439.92L636.22,439.87L637.08,439.82L637.94,439.77L638.80,439.73L639.66,439.68L640.52,439.63L641.38,439.59L642.24,439.54L643.10,439.49L643.96,439.45L644.82,439.41L645.68,439.36L646.54,439.32L647.40,439.27L648.26,439.23L649.12,439.19L649.98,439.15L650.84,439.10L651.70,439.06" stroke="#62a05c" stroke-width="1.2" fill="none" />
<path d="M514.10,467.93L514.96,467.93L515.82,467.93L516.68,467.93L517.54,467.93L518.40,467.93L519.26,467.93L520.12,467.93L520.98,467.93L521.84,467.93L522.70,467.93L523.56,467.93L524.42,467.93L525.28,467.93L526.14,467.93L527.00,467.93L527.86,467.93L528.72,467.93L529.58,467.93L530.44,467.93L531.30,467.93L532.16,467.93L533.02,467.93L533.88,467.93L534.74,467.93L535.60,467.93L536.46,467.93L537.32,467.93L538.18,467.93L539.04,467.93L539.90,467.93L540.76,467.93L541.62,467.93L542.48,467.93L543.34,467.93L544.20,467.93L545.06,467.93L545.92,467.93L546.78,467.93L547.64,467.93L548.50,467.93L549.36,467.93L550.22,467.93L551.08,467.93L551.94,467.93L552.80,467.93L553.66,467.93L554.52,467.93L555.38,467.93L556.24,467.93L557.10,467.93L557.96,467.93L558.82,467.93L559.68,467.93L560.54,467.93L561.40,467.93L562.26,467.92L563.12,467.92L563.98,467.92L564.84,467.92L565.70,467.92L566.56,467.92L567.42,467.92L568.28,467.91L569.14,467.91L570.00,467.91L570.86,467.91L571.72,467.90L572.58,467.90L573.44,467.89L574.30,467.89L575.16,467.88L576.02,467.88L576.88,467.87L577.74,467.86L578.60,467.85L579.46,467.84L580.32,467.82L581.18,467.81L582.04,467.79L582.90,467.77L583.76,467.75L584.62,467.72L585.48,467.70L586.34,467.66L587.20,467.63L588.06,467.58L588.92,467.53L589.78,467.48L590.64,467.42L591.50,467.35L592.36,467.27L593.22,467.17L594.08,467.07L594.94,466.95L595.80,466.82L596.66,466.67L597.52,466.49L598.38,466.30L599.24,466.07L600.10,465.82L600.96,465.54L601.82,465.22L602.68,464.86L603.54,464.45L604.40,463.99L605.26,463.47L606.12,462.89L606.98,462.23L607.84,461.50L608.70,460.69L609.56,459.78L610.42,458.78L611.28,457.66L612.14,456.44L613.00,455.09L613.86,453.62L614.72,452.01L615.58,450.28L616.44,448.41L617.30,446.40L618.16,444.27L619.02,442.02L619.88,439.66L620.74,437.20L621.60,434.65L622.46,432.04L623.32,429.39L624.18,426.72L625.04,424.04L625.90,421.39L626.76,418.78L627.62,416.23L628.48,413.77L629.34,411.41L630.20,409.16L631.06,407.03L631.92,405.02L632.78,403.15L633.64,401.42L634.50,399.81L635.36,398.34L636.22,396.99L637.08,395.77L637.94,394.65L638.80,393.65L639.66,392.74L640.52,391.93L641.38,391.20L642.24,390.55L643.10,389.97L643.96,389.45L644.82,388.99L645.68,388.58L646.54,388.21L647.40,387.89L648.26,387.61L649.12,387.36L649.98,387.14L650.84,386.94L651.70,386.77" stroke="#8c8fdc" stroke-width="1.5" fill="none" />
<path d="M514.10,448.24L514.96,448.24L515.82,448.24L516.68,448.24L517.54,448.24L518.40,448.24L519.26,448.24L520.12,448.24L520.98,448.24L521.84,448.24L522.70,448.23L523.56,448.23L524.42,448.23L525.28,448.23L526.14,448.23L527.00,448.23L527.86,448.23L528.72,448.23L529.58,448.23L530.44,448.22L531.30,448.22L532.16,448.22L533.02,448.22L533.88,448.22L534.74,448.22L535.60,448.21L536.46,448.21L537.32,448.21L538.18,448.20L539.04,448.20L539.90,448.20L540.76,448.19L541.62,448.19L542.48,448.18L543.34,448.18L544.20,448.17L545.06,448.17L545.92,448.16L546.78,448.16L547.64,448.15L548.50,448.14L549.36,448.13L550.22,448.12L551.08,448.11L551.94,448.10L552.80,448.09L553.66,448.08L554.52,448.06L555.38,448.05L556.24,448.03L557.10,448.01L557.96,447.99L558.82,447.97L559.68,447.95L560.54,447.93L561.40,447.90L562.26,447.87L563.12,447.84L563.98,447.81L564.84,447.77L565.70,447.73L566.56,447.69L567.42,447.64L568.28,447.59L569.14,447.54L570.00,447.48L570.86,447.42L571.72,447.35L572.58,447.28L573.44,447.20L574.30,447.12L575.16,447.02L576.02,446.92L576.88,446.82L577.74,446.70L578.60,446.58L579.46,446.44L580.32,446.29L581.18,446.14L582.04,445.97L582.90,445.79L583.76,445.59L584.62,445.38L585.48,445.15L586.34,444.91L587.20,444.65L588.06,444.37L588.92,444.06L589.78,443.74L590.64,443.40L591.50,443.03L592.36,442.63L593.22,442.21L594.08,441.76L594.94,441.28L595.80,440.76L596.66,440.22L597.52,439.64L598.38,439.03L599.24,438.39L600.10,437.70L600.96,436.98L601.82,436.23L602.68,435.43L603.54,434.59L604.40,433.72L605.26,432.81L606.12,431.86L606.98,430.87L607.84,429.85L608.70,428.79L609.56,427.70L610.42,426.58L611.28,425.43L612.14,424.26L613.00,423.06L613.86,421.85L614.72,420.62L615.58,419.38L616.44,418.13L617.30,416.87L618.16,415.62L619.02,414.37L619.88,413.13L620.74,411.89L621.60,410.68L622.46,409.48L623.32,408.31L624.18,407.16L625.04,406.04L625.90,404.95L626.76,403.90L627.62,402.87L628.48,401.89L629.34,400.94L630.20,400.02L631.06,399.15L631.92,398.31L632.78,397.52L633.64,396.76L634.50,396.04L635.36,395.36L636.22,394.71L637.08,394.10L637.94,393.52L638.80,392.98L639.66,392.47L640.52,391.99L641.38,391.54L642.24,391.11L643.10,390.72L643.96,390.35L644.82,390.00L645.68,389.68L646.54,389.38L647.40,389.10L648.26,388.83L649.12,388.59L649.98,388.36L650.84,388.15L651.70,387.96" stroke="#dc3c8c" stroke-width="1.2" fill="none" />
<rect x="511.80" y="452.29" width="4.60" height="4.60" fill="#62a05c"/>
<line x1="531.30" y1="443.74" x2="531.30" y2="452.94" stroke="#62a05c" stroke-width="0.9" />
<line x1="529.30" y1="443.74" x2="533.30" y2="443.74" stroke="#62a05c" stroke-width="0.9" />
<line x1="529.30" y1="452.94" x2="533.30" y2="452.94" stroke="#62a05c" stroke-width="0.9" />
<rect x="529.00" y="446.04" width="4.60" height="4.60" fill="#62a05c"/>
<line x1="548.50" y1="446.04" x2="548.50" y2="451.56" stroke="#62a05c" stroke-width="0.9" />
<line x1="546.50" y1="446.04" x2="550.50" y2="446.04" stroke="#62a05c" stroke-width="0.9" />
<line x1="546.50" y1="451.56" x2="550.50" y2="451.56" stroke="#62a05c" stroke-width="0.9" />
<rect x="546.20" y="446.50" width="4.60" height="4.60" fill="#62a05c"/>
<line x1="565.70" y1="443.64" x2="565.70" y2="449.16" stroke="#62a05c" stroke-width="0.9" />
<line x1="563.70" y1="443.64" x2="567.70" y2="443.64" stroke="#62a05c" stroke-width="0.9" />
<line x1="563.70" y1="449.16" x2="567.70" y2="449.16" stroke="#62a05c" stroke-width="0.9" />
<rect x="563.40" y="444.10" width="4.60" height="4.60" fill="#62a05c"/>
<rect x="580.60" y="442.26" width="4.60" height="4.60" fill="#62a05c"/>
<rect x="597.80" y="439.04" width="4.60" height="4.60" fill="#62a05c"/>
<rect x="615.00" y="439.04" width="4.60" height="4.60" fill="#62a05c"/>
<rect x="632.20" y="437.11" width="4.60" height="4.60" fill="#62a05c"/>
<line x1="651.70" y1="436.65" x2="651.70" y2="442.17" stroke="#62a05c" stroke-width="0.9" />
<line x1="649.70" y1="436.65" x2="653.70" y2="436.65" stroke="#62a05c" stroke-width="0.9" />
<line x1="649.70" y1="442.17" x2="653.70" y2="442.17" stroke="#62a05c" stroke-width="0.9" />
<rect x="649.40" y="437.11" width="4.60" height="4.60" fill="#62a05c"/>
<path d="M528.70,450.29L533.90,450.29L531.30,445.87Z" fill="#dc3c8c"/>
<path d="M545.90,450.75L551.10,450.75L548.50,446.33Z" fill="#dc3c8c"/>
<line x1="565.70" y1="440.70" x2="565.70" y2="449.90" stroke="#dc3c8c" stroke-width="0.9" />
<line x1="563.70" y1="440.70" x2="567.70" y2="440.70" stroke="#dc3c8c" stroke-width="0.9" />
<line x1="563.70" y1="449.90" x2="567.70" y2="449.90" stroke="#dc3c8c" stroke-width="0.9" />
<path d="M563.10,447.25L568.30,447.25L565.70,442.83Z" fill="#dc3c8c"/>
<path d="M580.30,443.75L585.50,443.75L582.90,439.33Z" fill="#dc3c8c"/>
<line x1="600.10" y1="435.18" x2="600.10" y2="438.86" stroke="#dc3c8c" stroke-width="0.9" />
<line x1="598.10" y1="435.18" x2="602.10" y2="435.18" stroke="#dc3c8c" stroke-width="0.9" />
<line x1="598.10" y1="438.86" x2="602.10" y2="438.86" stroke="#dc3c8c" stroke-width="0.9" />
<path d="M597.50,438.97L602.70,438.97L600.10,434.55Z" fill="#dc3c8c"/>
<line x1="617.30" y1="409.88" x2="617.30" y2="424.60" stroke="#dc3c8c" stroke-width="0.9" />
<line x1="615.30" y1="409.88" x2="619.30" y2="409.88" stroke="#dc3c8c" stroke-width="0.9" />
<line x1="615.30" y1="424.60" x2="619.30" y2="424.60" stroke="#dc3c8c" stroke-width="0.9" />
<path d="M614.70,419.19L619.90,419.19L617.30,414.77Z" fill="#dc3c8c"/>
<line x1="634.50" y1="389.00" x2="634.50" y2="396.36" stroke="#dc3c8c" stroke-width="0.9" />
<line x1="632.50" y1="389.00" x2="636.50" y2="389.00" stroke="#dc3c8c" stroke-width="0.9" />
<line x1="632.50" y1="396.36" x2="636.50" y2="396.36" stroke="#dc3c8c" stroke-width="0.9" />
<path d="M631.90,394.63L637.10,394.63L634.50,390.21Z" fill="#dc3c8c"/>
<line x1="651.70" y1="386.05" x2="651.70" y2="389.73" stroke="#dc3c8c" stroke-width="0.9" />
<line x1="649.70" y1="386.05" x2="653.70" y2="386.05" stroke="#dc3c8c" stroke-width="0.9" />
<line x1="649.70" y1="389.73" x2="653.70" y2="389.73" stroke="#dc3c8c" stroke-width="0.9" />
<path d="M649.10,389.84L654.30,389.84L651.70,385.42Z" fill="#dc3c8c"/>
<circle cx="514.10" cy="466.28" r="2.50" fill="#8c8fdc"/>
<circle cx="531.30" cy="465.63" r="2.50" fill="#8c8fdc"/>
<circle cx="548.50" cy="468.02" r="2.50" fill="#8c8fdc"/>
<circle cx="565.70" cy="469.31" r="2.50" fill="#8c8fdc"/>
<circle cx="582.90" cy="469.77" r="2.50" fill="#8c8fdc"/>
<line x1="600.10" y1="461.40" x2="600.10" y2="468.76" stroke="#8c8fdc" stroke-width="0.9" />
<line x1="598.10" y1="461.40" x2="602.10" y2="461.40" stroke="#8c8fdc" stroke-width="0.9" />
<line x1="598.10" y1="468.76" x2="602.10" y2="468.76" stroke="#8c8fdc" stroke-width="0.9" />
<circle cx="600.10" cy="465.08" r="2.50" fill="#8c8fdc"/>
<line x1="617.30" y1="437.02" x2="617.30" y2="453.58" stroke="#8c8fdc" stroke-width="0.9" />
<line x1="615.30" y1="437.02" x2="619.30" y2="437.02" stroke="#8c8fdc" stroke-width="0.9" />
<line x1="615.30" y1="453.58" x2="619.30" y2="453.58" stroke="#8c8fdc" stroke-width="0.9" />
<circle cx="617.30" cy="445.30" r="2.50" fill="#8c8fdc"/>
<line x1="634.50" y1="394.70" x2="634.50" y2="400.22" stroke="#8c8fdc" stroke-width="0.9" />
<line x1="632.50" y1="394.70" x2="636.50" y2="394.70" stroke="#8c8fdc" stroke-width="0.9" />
<line x1="632.50" y1="400.22" x2="636.50" y2="400.22" stroke="#8c8fdc" stroke-width="0.9" />
<circle cx="634.50" cy="397.46" r="2.50" fill="#8c8fdc"/>
<circle cx="651.70" cy="386.24" r="2.50" fill="#8c8fdc"/>
<line x1="505.10" y1="371.70" x2="516.90" y2="371.70" stroke="#8c8fdc" stroke-width="1.2" />
<circle cx="511.10" cy="371.70" r="2.62" fill="#8c8fdc"/>
<text x="524.10" y="374.90" font-size="9.2" text-anchor="start" >T-DM1</text>
<line x1="505.10" y1="386.60" x2="516.90" y2="386.60" stroke="#62a05c" stroke-width="1.2" />
<rect x="508.69" y="384.19" width="4.83" height="4.83" fill="#62a05c"/>
<text x="524.10" y="389.80" font-size="9.2" text-anchor="start" >SIBP-03</text>
<line x1="505.10" y1="401.30" x2="516.90" y2="401.30" stroke="#dc3c8c" stroke-width="1.2" />
<path d="M508.37,403.35L513.83,403.35L511.10,398.71Z" fill="#dc3c8c"/>
<text x="524.10" y="404.50" font-size="9.2" text-anchor="start" >Comb</text>
<text x="588.40" y="404.60" font-size="9.0" text-anchor="start" >CI &gt; 1</text>
<text x="2.60" y="527.00" font-size="14" text-anchor="start" font-weight="bold" >g</text>
<line x1="46.70" y1="544.90" x2="46.70" y2="655.85" stroke="#1a1a1a" stroke-width="1.1" />
<line x1="42.10" y1="544.90" x2="46.70" y2="544.90" stroke="#1a1a1a" stroke-width="1.1" />
<text x="40.90" y="548.21" font-size="9.2" text-anchor="end" >60</text>
<line x1="42.10" y1="560.75" x2="46.70" y2="560.75" stroke="#1a1a1a" stroke-width="1.1" />
<text x="40.90" y="564.06" font-size="9.2" text-anchor="end" >50</text>
<line x1="42.10" y1="576.60" x2="46.70" y2="576.60" stroke="#1a1a1a" stroke-width="1.1" />
<text x="40.90" y="579.91" font-size="9.2" text-anchor="end" >40</text>
<line x1="42.10" y1="592.45" x2="46.70" y2="592.45" stroke="#1a1a1a" stroke-width="1.1" />
<text x="40.90" y="595.76" font-size="9.2" text-anchor="end" >30</text>
<line x1="42.10" y1="608.30" x2="46.70" y2="608.30" stroke="#1a1a1a" stroke-width="1.1" />
<text x="40.90" y="611.61" font-size="9.2" text-anchor="end" >20</text>
<line x1="42.10" y1="624.15" x2="46.70" y2="624.15" stroke="#1a1a1a" stroke-width="1.1" />
<text x="40.90" y="627.46" font-size="9.2" text-anchor="end" >10</text>
<line x1="42.10" y1="640.00" x2="46.70" y2="640.00" stroke="#1a1a1a" stroke-width="1.1" />
<text x="40.90" y="643.31" font-size="9.2" text-anchor="end" >0</text>
<line x1="42.10" y1="655.85" x2="46.70" y2="655.85" stroke="#1a1a1a" stroke-width="1.1" />
<text x="40.90" y="659.16" font-size="9.2" text-anchor="end" >-10</text>
<line x1="46.70" y1="640.00" x2="224.60" y2="640.00" stroke="#1a1a1a" stroke-width="1.1" />
<line x1="66.20" y1="640.00" x2="66.20" y2="644.40" stroke="#1a1a1a" stroke-width="1.1" />
<text x="66.20" y="657.00" font-size="9.0" text-anchor="middle" >1.7</text>
<line x1="81.70" y1="640.00" x2="81.70" y2="644.40" stroke="#1a1a1a" stroke-width="1.1" />
<text x="81.70" y="657.00" font-size="9.0" text-anchor="middle" >3</text>
<line x1="99.40" y1="640.00" x2="99.40" y2="644.40" stroke="#1a1a1a" stroke-width="1.1" />
<text x="99.40" y="657.00" font-size="9.0" text-anchor="middle" >6</text>
<line x1="117.10" y1="640.00" x2="117.10" y2="644.40" stroke="#1a1a1a" stroke-width="1.1" />
<text x="117.10" y="657.00" font-size="9.0" text-anchor="middle" >12</text>
<line x1="134.90" y1="640.00" x2="134.90" y2="644.40" stroke="#1a1a1a" stroke-width="1.1" />
<text x="134.90" y="657.00" font-size="9.0" text-anchor="middle" >25</text>
<line x1="152.70" y1="640.00" x2="152.70" y2="644.40" stroke="#1a1a1a" stroke-width="1.1" />
<text x="152.70" y="657.00" font-size="9.0" text-anchor="middle" >50</text>
<line x1="170.60" y1="640.00" x2="170.60" y2="644.40" stroke="#1a1a1a" stroke-width="1.1" />
<text x="170.60" y="657.00" font-size="9.0" text-anchor="middle" >100</text>
<line x1="188.40" y1="640.00" x2="188.40" y2="644.40" stroke="#1a1a1a" stroke-width="1.1" />
<text x="188.40" y="657.00" font-size="9.0" text-anchor="middle" >200</text>
<line x1="206.20" y1="640.00" x2="206.20" y2="644.40" stroke="#1a1a1a" stroke-width="1.1" />
<text x="206.20" y="657.00" font-size="9.0" text-anchor="middle" >400</text>
<text x="128.10" y="529.90" font-size="9.3" text-anchor="middle" >SK-BR-3</text>
<text x="131.60" y="670.90" font-size="9.4" text-anchor="middle" >DS-8201 (ng/mL)</text>
<text transform="translate(21.10,601.00) rotate(-90)" font-size="9.4" text-anchor="middle">Inhibition (%)</text>
<path d="M66.20,640.68L66.90,640.64L67.60,640.60L68.30,640.55L69.00,640.51L69.70,640.46L70.40,640.41L71.10,640.36L71.80,640.31L72.50,640.25L73.20,640.19L73.90,640.13L74.60,640.07L75.30,640.00L76.00,639.94L76.70,639.86L77.40,639.79L78.10,639.71L78.80,639.63L79.50,639.55L80.20,639.47L80.90,639.38L81.60,639.28L82.30,639.19L83.00,639.09L83.70,638.98L84.40,638.87L85.10,638.76L85.80,638.64L86.50,638.52L87.20,638.39L87.90,638.26L88.60,638.13L89.30,637.98L90.00,637.84L90.70,637.68L91.40,637.53L92.10,637.36L92.80,637.19L93.50,637.01L94.20,636.83L94.90,636.64L95.60,636.44L96.30,636.24L97.00,636.03L97.70,635.81L98.40,635.58L99.10,635.35L99.80,635.10L100.50,634.85L101.20,634.59L101.90,634.32L102.60,634.04L103.30,633.75L104.00,633.46L104.70,633.15L105.40,632.83L106.10,632.50L106.80,632.16L107.50,631.81L108.20,631.45L108.90,631.08L109.60,630.70L110.30,630.31L111.00,629.90L111.70,629.48L112.40,629.06L113.10,628.61L113.80,628.16L114.50,627.69L115.20,627.22L115.90,626.73L116.60,626.22L117.30,625.71L118.00,625.18L118.70,624.64L119.40,624.08L120.10,623.52L120.80,622.94L121.50,622.35L122.20,621.74L122.90,621.13L123.60,620.50L124.30,619.86L125.00,619.21L125.70,618.55L126.40,617.88L127.10,617.19L127.80,616.50L128.50,615.80L129.20,615.08L129.90,614.36L130.60,613.63L131.30,612.89L132.00,612.14L132.70,611.39L133.40,610.63L134.10,609.86L134.80,609.09L135.50,608.31L136.20,607.53L136.90,606.75L137.60,605.96L138.30,605.17L139.00,604.38L139.70,603.59L140.40,602.80L141.10,602.01L141.80,601.22L142.50,600.43L143.20,599.64L143.90,598.86L144.60,598.08L145.30,597.30L146.00,596.54L146.70,595.77L147.40,595.01L148.10,594.26L148.80,593.52L149.50,592.78L150.20,592.06L150.90,591.34L151.60,590.63L152.30,589.93L153.00,589.24L153.70,588.56L154.40,587.89L155.10,587.23L155.80,586.59L156.50,585.95L157.20,585.33L157.90,584.72L158.60,584.12L159.30,583.53L160.00,582.96L160.70,582.40L161.40,581.85L162.10,581.31L162.80,580.79L163.50,580.28L164.20,579.78L164.90,579.30L165.60,578.82L166.30,578.36L167.00,577.91L167.70,577.48L168.40,577.05L169.10,576.64L169.80,576.24L170.50,575.85L171.20,575.47L171.90,575.10L172.60,574.75L173.30,574.40L174.00,574.07L174.70,573.75L175.40,573.43L176.10,573.13L176.80,572.83L177.50,572.55L178.20,572.27L178.90,572.01L179.60,571.75L180.30,571.50L181.00,571.26L181.70,571.03L182.40,570.81L183.10,570.59L183.80,570.38L184.50,570.18L185.20,569.99L185.90,569.80L186.60,569.62L187.30,569.44L188.00,569.28L188.70,569.11L189.40,568.96L190.10,568.81L190.80,568.66L191.50,568.52L192.20,568.39L192.90,568.26L193.60,568.13L194.30,568.01L195.00,567.90L195.70,567.79L196.40,567.68L197.10,567.58L197.80,567.48L198.50,567.38L199.20,567.29L199.90,567.20L200.60,567.12L201.30,567.04L202.00,566.96L202.70,566.88L203.40,566.81L204.10,566.74L204.80,566.67L205.50,566.61L206.20,566.55" stroke="#111111" stroke-width="0.9" fill="none" />
<path d="M66.20,617.78L66.90,617.72L67.60,617.65L68.30,617.57L69.00,617.50L69.70,617.42L70.40,617.35L71.10,617.26L71.80,617.18L72.50,617.09L73.20,617.01L73.90,616.91L74.60,616.82L75.30,616.72L76.00,616.62L76.70,616.52L77.40,616.41L78.10,616.30L78.80,616.19L79.50,616.08L80.20,615.96L80.90,615.83L81.60,615.71L82.30,615.58L83.00,615.44L83.70,615.31L84.40,615.17L85.10,615.02L85.80,614.87L86.50,614.72L87.20,614.56L87.90,614.40L88.60,614.23L89.30,614.06L90.00,613.88L90.70,613.70L91.40,613.51L92.10,613.32L92.80,613.13L93.50,612.92L94.20,612.72L94.90,612.51L95.60,612.29L96.30,612.06L97.00,611.83L97.70,611.60L98.40,611.36L99.10,611.11L99.80,610.86L100.50,610.60L101.20,610.33L101.90,610.06L102.60,609.78L103.30,609.50L104.00,609.20L104.70,608.91L105.40,608.60L106.10,608.29L106.80,607.97L107.50,607.64L108.20,607.31L108.90,606.97L109.60,606.62L110.30,606.27L111.00,605.90L111.70,605.54L112.40,605.16L113.10,604.77L113.80,604.38L114.50,603.98L115.20,603.58L115.90,603.17L116.60,602.75L117.30,602.32L118.00,601.88L118.70,601.44L119.40,600.99L120.10,600.54L120.80,600.07L121.50,599.60L122.20,599.13L122.90,598.64L123.60,598.15L124.30,597.66L125.00,597.16L125.70,596.65L126.40,596.13L127.10,595.61L127.80,595.09L128.50,594.56L129.20,594.02L129.90,593.48L130.60,592.94L131.30,592.39L132.00,591.83L132.70,591.27L133.40,590.71L134.10,590.14L134.80,589.57L135.50,589.00L136.20,588.43L136.90,587.85L137.60,587.27L138.30,586.69L139.00,586.11L139.70,585.52L140.40,584.94L141.10,584.35L141.80,583.76L142.50,583.18L143.20,582.59L143.90,582.01L144.60,581.42L145.30,580.84L146.00,580.26L146.70,579.68L147.40,579.10L148.10,578.52L148.80,577.95L149.50,577.38L150.20,576.81L150.90,576.25L151.60,575.69L152.30,575.13L153.00,574.58L153.70,574.04L154.40,573.49L155.10,572.96L155.80,572.43L156.50,571.90L157.20,571.38L157.90,570.86L158.60,570.35L159.30,569.85L160.00,569.35L160.70,568.86L161.40,568.37L162.10,567.90L162.80,567.43L163.50,566.96L164.20,566.50L164.90,566.05L165.60,565.61L166.30,565.17L167.00,564.74L167.70,564.32L168.40,563.91L169.10,563.50L169.80,563.10L170.50,562.71L171.20,562.32L171.90,561.94L172.60,561.57L173.30,561.21L174.00,560.85L174.70,560.50L175.40,560.16L176.10,559.82L176.80,559.49L177.50,559.17L178.20,558.86L178.90,558.55L179.60,558.25L180.30,557.96L181.00,557.67L181.70,557.39L182.40,557.12L183.10,556.85L183.80,556.59L184.50,556.33L185.20,556.09L185.90,555.84L186.60,555.61L187.30,555.38L188.00,555.15L188.70,554.93L189.40,554.72L190.10,554.51L190.80,554.31L191.50,554.11L192.20,553.92L192.90,553.73L193.60,553.55L194.30,553.37L195.00,553.20L195.70,553.03L196.40,552.87L197.10,552.71L197.80,552.55L198.50,552.40L199.20,552.25L199.90,552.11L200.60,551.97L201.30,551.84L202.00,551.71L202.70,551.58L203.40,551.46L204.10,551.34L204.80,551.22L205.50,551.11L206.20,551.00" stroke="#e0357a" stroke-width="1.05" fill="none" />
<line x1="66.20" y1="630.49" x2="66.20" y2="650.14" stroke="#444" stroke-width="0.9" />
<line x1="64.20" y1="630.49" x2="68.20" y2="630.49" stroke="#444" stroke-width="0.9" />
<line x1="64.20" y1="650.14" x2="68.20" y2="650.14" stroke="#444" stroke-width="0.9" />
<circle cx="66.20" cy="640.63" r="2.50" fill="#111111"/>
<line x1="81.70" y1="635.56" x2="81.70" y2="642.69" stroke="#444" stroke-width="0.9" />
<line x1="79.70" y1="635.56" x2="83.70" y2="635.56" stroke="#444" stroke-width="0.9" />
<line x1="79.70" y1="642.69" x2="83.70" y2="642.69" stroke="#444" stroke-width="0.9" />
<circle cx="81.70" cy="639.52" r="2.50" fill="#111111"/>
<circle cx="99.40" cy="633.34" r="2.50" fill="#111111"/>
<line x1="117.10" y1="625.74" x2="117.10" y2="629.70" stroke="#444" stroke-width="0.9" />
<line x1="115.10" y1="625.74" x2="119.10" y2="625.74" stroke="#444" stroke-width="0.9" />
<line x1="115.10" y1="629.70" x2="119.10" y2="629.70" stroke="#444" stroke-width="0.9" />
<circle cx="117.10" cy="628.90" r="2.50" fill="#111111"/>
<circle cx="134.90" cy="607.67" r="2.50" fill="#111111"/>
<line x1="152.70" y1="584.52" x2="152.70" y2="592.45" stroke="#444" stroke-width="0.9" />
<line x1="150.70" y1="584.52" x2="154.70" y2="584.52" stroke="#444" stroke-width="0.9" />
<line x1="150.70" y1="592.45" x2="154.70" y2="592.45" stroke="#444" stroke-width="0.9" />
<circle cx="152.70" cy="588.49" r="2.50" fill="#111111"/>
<line x1="170.60" y1="572.95" x2="170.60" y2="579.29" stroke="#444" stroke-width="0.9" />
<line x1="168.60" y1="572.95" x2="172.60" y2="572.95" stroke="#444" stroke-width="0.9" />
<line x1="168.60" y1="579.29" x2="172.60" y2="579.29" stroke="#444" stroke-width="0.9" />
<circle cx="170.60" cy="576.12" r="2.50" fill="#111111"/>
<line x1="188.40" y1="570.26" x2="188.40" y2="576.60" stroke="#444" stroke-width="0.9" />
<line x1="186.40" y1="570.26" x2="190.40" y2="570.26" stroke="#444" stroke-width="0.9" />
<line x1="186.40" y1="576.60" x2="190.40" y2="576.60" stroke="#444" stroke-width="0.9" />
<circle cx="188.40" cy="573.43" r="2.50" fill="#111111"/>
<line x1="206.20" y1="555.68" x2="206.20" y2="569.63" stroke="#444" stroke-width="0.9" />
<line x1="204.20" y1="555.68" x2="208.20" y2="555.68" stroke="#444" stroke-width="0.9" />
<line x1="204.20" y1="569.63" x2="208.20" y2="569.63" stroke="#444" stroke-width="0.9" />
<circle cx="206.20" cy="562.97" r="2.50" fill="#111111"/>
<rect x="63.90" y="616.14" width="4.60" height="4.60" fill="#e0357a"/>
<line x1="81.70" y1="610.04" x2="81.70" y2="619.87" stroke="#e878a8" stroke-width="0.9" />
<line x1="79.70" y1="610.04" x2="83.70" y2="610.04" stroke="#e878a8" stroke-width="0.9" />
<line x1="79.70" y1="619.87" x2="83.70" y2="619.87" stroke="#e878a8" stroke-width="0.9" />
<rect x="79.40" y="612.66" width="4.60" height="4.60" fill="#e0357a"/>
<rect x="97.10" y="608.38" width="4.60" height="4.60" fill="#e0357a"/>
<rect x="114.80" y="600.14" width="4.60" height="4.60" fill="#e0357a"/>
<rect x="132.60" y="589.04" width="4.60" height="4.60" fill="#e0357a"/>
<rect x="150.40" y="569.55" width="4.60" height="4.60" fill="#e0357a"/>
<rect x="168.30" y="562.25" width="4.60" height="4.60" fill="#e0357a"/>
<line x1="188.40" y1="550.92" x2="188.40" y2="559.48" stroke="#e878a8" stroke-width="0.9" />
<line x1="186.40" y1="550.92" x2="190.40" y2="550.92" stroke="#e878a8" stroke-width="0.9" />
<line x1="186.40" y1="559.48" x2="190.40" y2="559.48" stroke="#e878a8" stroke-width="0.9" />
<rect x="186.10" y="552.90" width="4.60" height="4.60" fill="#e0357a"/>
<line x1="206.20" y1="546.49" x2="206.20" y2="554.41" stroke="#e878a8" stroke-width="0.9" />
<line x1="204.20" y1="546.49" x2="208.20" y2="546.49" stroke="#e878a8" stroke-width="0.9" />
<line x1="204.20" y1="554.41" x2="208.20" y2="554.41" stroke="#e878a8" stroke-width="0.9" />
<rect x="203.90" y="548.15" width="4.60" height="4.60" fill="#e0357a"/>
<line x1="49.80" y1="544.70" x2="62.80" y2="544.70" stroke="#999" stroke-width="1.0" />
<circle cx="56.60" cy="544.70" r="2.25" fill="#111111"/>
<text x="69.30" y="547.70" font-size="9.3" text-anchor="start" >DS-8201</text>
<line x1="49.80" y1="558.50" x2="62.80" y2="558.50" stroke="#e0357a" stroke-width="1.2" />
<rect x="54.41" y="556.31" width="4.37" height="4.37" fill="#e0357a"/>
<text x="69.30" y="561.50" font-size="9.3" text-anchor="start" >DS-8201 + SIBP (30 μg/mL)</text>
<path d="M210.20,549.60L215.20,549.60L215.20,567.20L210.20,567.20" stroke="#222" stroke-width="1.25" fill="none" />
<text x="218.40" y="563.60" font-size="9.0" text-anchor="start" >*</text>
<line x1="330.30" y1="546.20" x2="330.30" y2="656.10" stroke="#1a1a1a" stroke-width="1.1" />
<line x1="325.70" y1="546.20" x2="330.30" y2="546.20" stroke="#1a1a1a" stroke-width="1.1" />
<text x="324.50" y="549.51" font-size="9.2" text-anchor="end" >60</text>
<line x1="325.70" y1="561.90" x2="330.30" y2="561.90" stroke="#1a1a1a" stroke-width="1.1" />
<text x="324.50" y="565.21" font-size="9.2" text-anchor="end" >50</text>
<line x1="325.70" y1="577.60" x2="330.30" y2="577.60" stroke="#1a1a1a" stroke-width="1.1" />
<text x="324.50" y="580.91" font-size="9.2" text-anchor="end" >40</text>
<line x1="325.70" y1="593.30" x2="330.30" y2="593.30" stroke="#1a1a1a" stroke-width="1.1" />
<text x="324.50" y="596.61" font-size="9.2" text-anchor="end" >30</text>
<line x1="325.70" y1="609.00" x2="330.30" y2="609.00" stroke="#1a1a1a" stroke-width="1.1" />
<text x="324.50" y="612.31" font-size="9.2" text-anchor="end" >20</text>
<line x1="325.70" y1="624.70" x2="330.30" y2="624.70" stroke="#1a1a1a" stroke-width="1.1" />
<text x="324.50" y="628.01" font-size="9.2" text-anchor="end" >10</text>
<line x1="325.70" y1="640.40" x2="330.30" y2="640.40" stroke="#1a1a1a" stroke-width="1.1" />
<text x="324.50" y="643.71" font-size="9.2" text-anchor="end" >0</text>
<line x1="325.70" y1="656.10" x2="330.30" y2="656.10" stroke="#1a1a1a" stroke-width="1.1" />
<text x="324.50" y="659.41" font-size="9.2" text-anchor="end" >-10</text>
<line x1="330.30" y1="640.40" x2="508.50" y2="640.40" stroke="#1a1a1a" stroke-width="1.1" />
<line x1="353.60" y1="640.40" x2="353.60" y2="644.80" stroke="#1a1a1a" stroke-width="1.1" />
<text x="352.80" y="657.00" font-size="9.0" text-anchor="middle" >0.7</text>
<line x1="369.60" y1="640.40" x2="369.60" y2="644.80" stroke="#1a1a1a" stroke-width="1.1" />
<text x="369.20" y="657.00" font-size="9.0" text-anchor="middle" >1.5</text>
<line x1="386.30" y1="640.40" x2="386.30" y2="644.80" stroke="#1a1a1a" stroke-width="1.1" />
<text x="387.10" y="657.00" font-size="9.0" text-anchor="middle" >3</text>
<line x1="402.80" y1="640.40" x2="402.80" y2="644.80" stroke="#1a1a1a" stroke-width="1.1" />
<text x="402.50" y="657.00" font-size="9.0" text-anchor="middle" >6</text>
<line x1="419.90" y1="640.40" x2="419.90" y2="644.80" stroke="#1a1a1a" stroke-width="1.1" />
<text x="419.80" y="657.00" font-size="9.0" text-anchor="middle" >12</text>
<line x1="436.60" y1="640.40" x2="436.60" y2="644.80" stroke="#1a1a1a" stroke-width="1.1" />
<text x="437.20" y="657.00" font-size="9.0" text-anchor="middle" >25</text>
<line x1="453.40" y1="640.40" x2="453.40" y2="644.80" stroke="#1a1a1a" stroke-width="1.1" />
<text x="453.40" y="657.00" font-size="9.0" text-anchor="middle" >50</text>
<line x1="469.90" y1="640.40" x2="469.90" y2="644.80" stroke="#1a1a1a" stroke-width="1.1" />
<text x="470.50" y="657.00" font-size="9.0" text-anchor="middle" >100</text>
<line x1="486.40" y1="640.40" x2="486.40" y2="644.80" stroke="#1a1a1a" stroke-width="1.1" />
<text x="486.40" y="657.00" font-size="9.0" text-anchor="middle" >200</text>
<text x="411.90" y="529.90" font-size="9.3" text-anchor="middle" >MDA-MB-453</text>
<text x="415.00" y="670.90" font-size="9.4" text-anchor="middle" >DS-8201 (ng/mL)</text>
<text transform="translate(303.50,600.60) rotate(-90)" font-size="9.4" text-anchor="middle">Inhibition (%)</text>
<path d="M351.40,641.78L352.07,641.76L352.75,641.74L353.42,641.72L354.10,641.69L354.77,641.67L355.45,641.65L356.12,641.62L356.80,641.59L357.47,641.56L358.15,641.54L358.82,641.51L359.50,641.47L360.17,641.44L360.85,641.41L361.52,641.37L362.20,641.34L362.88,641.30L363.55,641.26L364.22,641.22L364.90,641.18L365.57,641.14L366.25,641.09L366.92,641.04L367.60,641.00L368.27,640.95L368.95,640.89L369.62,640.84L370.30,640.78L370.97,640.73L371.65,640.67L372.32,640.60L373.00,640.54L373.67,640.47L374.35,640.40L375.02,640.33L375.70,640.26L376.38,640.18L377.05,640.10L377.72,640.02L378.40,639.93L379.07,639.84L379.75,639.75L380.42,639.66L381.10,639.56L381.77,639.46L382.45,639.35L383.12,639.24L383.80,639.13L384.47,639.01L385.15,638.89L385.82,638.77L386.50,638.64L387.17,638.50L387.85,638.36L388.52,638.22L389.20,638.07L389.88,637.92L390.55,637.76L391.22,637.60L391.90,637.43L392.57,637.26L393.25,637.08L393.92,636.90L394.60,636.71L395.27,636.51L395.95,636.31L396.62,636.10L397.30,635.89L397.97,635.66L398.65,635.44L399.32,635.20L400.00,634.96L400.67,634.71L401.35,634.45L402.02,634.19L402.70,633.92L403.38,633.64L404.05,633.36L404.72,633.06L405.40,632.76L406.07,632.45L406.75,632.13L407.42,631.81L408.10,631.47L408.77,631.13L409.45,630.78L410.12,630.42L410.80,630.06L411.47,629.68L412.15,629.30L412.82,628.91L413.50,628.51L414.17,628.10L414.85,627.68L415.52,627.26L416.20,626.83L416.88,626.38L417.55,625.94L418.22,625.48L418.90,625.01L419.57,624.54L420.25,624.06L420.92,623.58L421.60,623.08L422.27,622.58L422.95,622.07L423.62,621.56L424.30,621.04L424.97,620.52L425.65,619.98L426.32,619.45L427.00,618.91L427.67,618.36L428.35,617.81L429.02,617.26L429.70,616.70L430.38,616.14L431.05,615.58L431.72,615.01L432.40,614.44L433.07,613.87L433.75,613.30L434.42,612.73L435.10,612.16L435.77,611.59L436.45,611.01L437.12,610.44L437.80,609.87L438.47,609.31L439.15,608.74L439.82,608.18L440.50,607.62L441.17,607.06L441.85,606.51L442.52,605.96L443.20,605.41L443.88,604.87L444.55,604.33L445.22,603.80L445.90,603.28L446.57,602.76L447.25,602.25L447.92,601.74L448.60,601.24L449.27,600.75L449.95,600.26L450.62,599.78L451.30,599.31L451.97,598.85L452.65,598.39L453.32,597.94L454.00,597.50L454.67,597.07L455.35,596.64L456.02,596.23L456.70,595.82L457.38,595.42L458.05,595.03L458.72,594.65L459.40,594.27L460.07,593.91L460.75,593.55L461.42,593.20L462.10,592.86L462.77,592.53L463.45,592.20L464.12,591.89L464.80,591.58L465.47,591.28L466.15,590.98L466.82,590.70L467.50,590.42L468.17,590.15L468.85,589.89L469.52,589.63L470.20,589.38L470.88,589.14L471.55,588.91L472.22,588.68L472.90,588.46L473.57,588.24L474.25,588.04L474.92,587.83L475.60,587.64L476.27,587.45L476.95,587.27L477.62,587.09L478.30,586.91L478.97,586.75L479.65,586.58L480.32,586.43L481.00,586.28L481.67,586.13L482.35,585.99L483.02,585.85L483.70,585.72L484.38,585.59L485.05,585.46L485.72,585.34L486.40,585.23" stroke="#111111" stroke-width="0.9" fill="none" />
<path d="M351.40,614.18L352.07,614.12L352.75,614.07L353.42,614.01L354.10,613.95L354.77,613.89L355.45,613.82L356.12,613.76L356.80,613.69L357.47,613.63L358.15,613.56L358.82,613.49L359.50,613.41L360.17,613.34L360.85,613.26L361.52,613.18L362.20,613.10L362.88,613.02L363.55,612.94L364.22,612.85L364.90,612.77L365.57,612.68L366.25,612.59L366.92,612.49L367.60,612.40L368.27,612.30L368.95,612.20L369.62,612.10L370.30,611.99L370.97,611.89L371.65,611.78L372.32,611.67L373.00,611.55L373.67,611.44L374.35,611.32L375.02,611.20L375.70,611.07L376.38,610.94L377.05,610.81L377.72,610.68L378.40,610.55L379.07,610.41L379.75,610.27L380.42,610.13L381.10,609.98L381.77,609.83L382.45,609.68L383.12,609.52L383.80,609.36L384.47,609.20L385.15,609.04L385.82,608.87L386.50,608.70L387.17,608.52L387.85,608.34L388.52,608.16L389.20,607.98L389.88,607.79L390.55,607.60L391.22,607.40L391.90,607.21L392.57,607.00L393.25,606.80L393.92,606.59L394.60,606.38L395.27,606.16L395.95,605.94L396.62,605.72L397.30,605.49L397.97,605.26L398.65,605.03L399.32,604.79L400.00,604.55L400.67,604.30L401.35,604.05L402.02,603.80L402.70,603.55L403.38,603.29L404.05,603.02L404.72,602.76L405.40,602.49L406.07,602.22L406.75,601.94L407.42,601.66L408.10,601.37L408.77,601.09L409.45,600.80L410.12,600.50L410.80,600.21L411.47,599.91L412.15,599.60L412.82,599.29L413.50,598.99L414.17,598.67L414.85,598.36L415.52,598.04L416.20,597.72L416.88,597.39L417.55,597.07L418.22,596.74L418.90,596.41L419.57,596.07L420.25,595.74L420.92,595.40L421.60,595.06L422.27,594.72L422.95,594.37L423.62,594.03L424.30,593.68L424.97,593.33L425.65,592.98L426.32,592.63L427.00,592.27L427.67,591.92L428.35,591.56L429.02,591.21L429.70,590.85L430.38,590.49L431.05,590.13L431.72,589.77L432.40,589.42L433.07,589.06L433.75,588.70L434.42,588.34L435.10,587.98L435.77,587.62L436.45,587.26L437.12,586.91L437.80,586.55L438.47,586.19L439.15,585.84L439.82,585.48L440.50,585.13L441.17,584.78L441.85,584.43L442.52,584.08L443.20,583.73L443.88,583.39L444.55,583.05L445.22,582.70L445.90,582.36L446.57,582.03L447.25,581.69L447.92,581.36L448.60,581.03L449.27,580.70L449.95,580.38L450.62,580.05L451.30,579.73L451.97,579.42L452.65,579.10L453.32,578.79L454.00,578.48L454.67,578.18L455.35,577.88L456.02,577.58L456.70,577.28L457.38,576.99L458.05,576.70L458.72,576.41L459.40,576.13L460.07,575.85L460.75,575.58L461.42,575.31L462.10,575.04L462.77,574.77L463.45,574.51L464.12,574.25L464.80,574.00L465.47,573.75L466.15,573.50L466.82,573.26L467.50,573.02L468.17,572.79L468.85,572.55L469.52,572.32L470.20,572.10L470.88,571.88L471.55,571.66L472.22,571.45L472.90,571.23L473.57,571.03L474.25,570.82L474.92,570.62L475.60,570.43L476.27,570.23L476.95,570.04L477.62,569.86L478.30,569.67L478.97,569.49L479.65,569.32L480.32,569.15L481.00,568.98L481.67,568.81L482.35,568.65L483.02,568.48L483.70,568.33L484.38,568.17L485.05,568.02L485.72,567.87L486.40,567.73" stroke="#e0357a" stroke-width="1.05" fill="none" />
<circle cx="351.40" cy="637.26" r="2.50" fill="#111111"/>
<circle cx="369.30" cy="645.42" r="2.50" fill="#111111"/>
<line x1="385.80" y1="633.81" x2="385.80" y2="646.99" stroke="#444" stroke-width="0.9" />
<line x1="383.80" y1="633.81" x2="387.80" y2="633.81" stroke="#444" stroke-width="0.9" />
<line x1="383.80" y1="646.99" x2="387.80" y2="646.99" stroke="#444" stroke-width="0.9" />
<circle cx="385.80" cy="640.40" r="2.50" fill="#111111"/>
<line x1="402.40" y1="622.35" x2="402.40" y2="634.90" stroke="#444" stroke-width="0.9" />
<line x1="400.40" y1="622.35" x2="404.40" y2="622.35" stroke="#444" stroke-width="0.9" />
<line x1="400.40" y1="634.90" x2="404.40" y2="634.90" stroke="#444" stroke-width="0.9" />
<circle cx="402.40" cy="633.33" r="2.50" fill="#111111"/>
<line x1="419.90" y1="617.48" x2="419.90" y2="624.39" stroke="#444" stroke-width="0.9" />
<line x1="417.90" y1="617.48" x2="421.90" y2="617.48" stroke="#444" stroke-width="0.9" />
<line x1="417.90" y1="624.39" x2="421.90" y2="624.39" stroke="#444" stroke-width="0.9" />
<circle cx="419.90" cy="620.93" r="2.50" fill="#111111"/>
<line x1="436.60" y1="607.12" x2="436.60" y2="624.07" stroke="#444" stroke-width="0.9" />
<line x1="434.60" y1="607.12" x2="438.60" y2="607.12" stroke="#444" stroke-width="0.9" />
<line x1="434.60" y1="624.07" x2="438.60" y2="624.07" stroke="#444" stroke-width="0.9" />
<circle cx="436.60" cy="615.59" r="2.50" fill="#111111"/>
<line x1="453.40" y1="590.63" x2="453.40" y2="597.54" stroke="#444" stroke-width="0.9" />
<line x1="451.40" y1="590.63" x2="455.40" y2="590.63" stroke="#444" stroke-width="0.9" />
<line x1="451.40" y1="597.54" x2="455.40" y2="597.54" stroke="#444" stroke-width="0.9" />
<circle cx="453.40" cy="594.09" r="2.50" fill="#111111"/>
<circle cx="469.90" cy="591.57" r="2.50" fill="#111111"/>
<circle cx="486.40" cy="584.66" r="2.50" fill="#111111"/>
<line x1="351.40" y1="610.73" x2="351.40" y2="619.20" stroke="#e878a8" stroke-width="0.9" />
<line x1="349.40" y1="610.73" x2="353.40" y2="610.73" stroke="#e878a8" stroke-width="0.9" />
<line x1="349.40" y1="619.20" x2="353.40" y2="619.20" stroke="#e878a8" stroke-width="0.9" />
<rect x="349.10" y="612.67" width="4.60" height="4.60" fill="#e0357a"/>
<line x1="369.30" y1="610.88" x2="369.30" y2="619.36" stroke="#e878a8" stroke-width="0.9" />
<line x1="367.30" y1="610.88" x2="371.30" y2="610.88" stroke="#e878a8" stroke-width="0.9" />
<line x1="367.30" y1="619.36" x2="371.30" y2="619.36" stroke="#e878a8" stroke-width="0.9" />
<rect x="367.00" y="612.82" width="4.60" height="4.60" fill="#e0357a"/>
<line x1="385.80" y1="594.40" x2="385.80" y2="610.41" stroke="#e878a8" stroke-width="0.9" />
<line x1="383.80" y1="594.40" x2="387.80" y2="594.40" stroke="#e878a8" stroke-width="0.9" />
<line x1="383.80" y1="610.41" x2="387.80" y2="610.41" stroke="#e878a8" stroke-width="0.9" />
<rect x="383.50" y="600.58" width="4.60" height="4.60" fill="#e0357a"/>
<rect x="400.10" y="601.21" width="4.60" height="4.60" fill="#e0357a"/>
<line x1="419.90" y1="595.18" x2="419.90" y2="603.98" stroke="#e878a8" stroke-width="0.9" />
<line x1="417.90" y1="595.18" x2="421.90" y2="595.18" stroke="#e878a8" stroke-width="0.9" />
<line x1="417.90" y1="603.98" x2="421.90" y2="603.98" stroke="#e878a8" stroke-width="0.9" />
<rect x="417.60" y="597.28" width="4.60" height="4.60" fill="#e0357a"/>
<line x1="436.60" y1="580.11" x2="436.60" y2="594.87" stroke="#e878a8" stroke-width="0.9" />
<line x1="434.60" y1="580.11" x2="438.60" y2="580.11" stroke="#e878a8" stroke-width="0.9" />
<line x1="434.60" y1="594.87" x2="438.60" y2="594.87" stroke="#e878a8" stroke-width="0.9" />
<rect x="434.30" y="585.19" width="4.60" height="4.60" fill="#e0357a"/>
<line x1="453.40" y1="571.48" x2="453.40" y2="582.47" stroke="#e878a8" stroke-width="0.9" />
<line x1="451.40" y1="571.48" x2="455.40" y2="571.48" stroke="#e878a8" stroke-width="0.9" />
<line x1="451.40" y1="582.47" x2="455.40" y2="582.47" stroke="#e878a8" stroke-width="0.9" />
<rect x="451.10" y="574.67" width="4.60" height="4.60" fill="#e0357a"/>
<line x1="469.90" y1="564.10" x2="469.90" y2="577.60" stroke="#e878a8" stroke-width="0.9" />
<line x1="467.90" y1="564.10" x2="471.90" y2="564.10" stroke="#e878a8" stroke-width="0.9" />
<line x1="467.90" y1="577.60" x2="471.90" y2="577.60" stroke="#e878a8" stroke-width="0.9" />
<rect x="467.60" y="568.55" width="4.60" height="4.60" fill="#e0357a"/>
<rect x="484.10" y="566.98" width="4.60" height="4.60" fill="#e0357a"/>
<line x1="333.80" y1="546.00" x2="346.80" y2="546.00" stroke="#999" stroke-width="1.0" />
<circle cx="340.60" cy="546.00" r="2.25" fill="#111111"/>
<text x="352.80" y="549.00" font-size="9.3" text-anchor="start" >DS-8201</text>
<line x1="333.80" y1="559.80" x2="346.80" y2="559.80" stroke="#e0357a" stroke-width="1.2" />
<rect x="338.42" y="557.61" width="4.37" height="4.37" fill="#e0357a"/>
<text x="352.80" y="562.80" font-size="9.3" text-anchor="start" >DS-8201 + SIBP (30 μg/mL)</text>
<path d="M492.60,566.40L497.60,566.40L497.60,585.70L492.60,585.70" stroke="#222" stroke-width="1.25" fill="none" />
<text x="500.80" y="581.25" font-size="9.0" text-anchor="start" >*</text>
</svg></body></html>
